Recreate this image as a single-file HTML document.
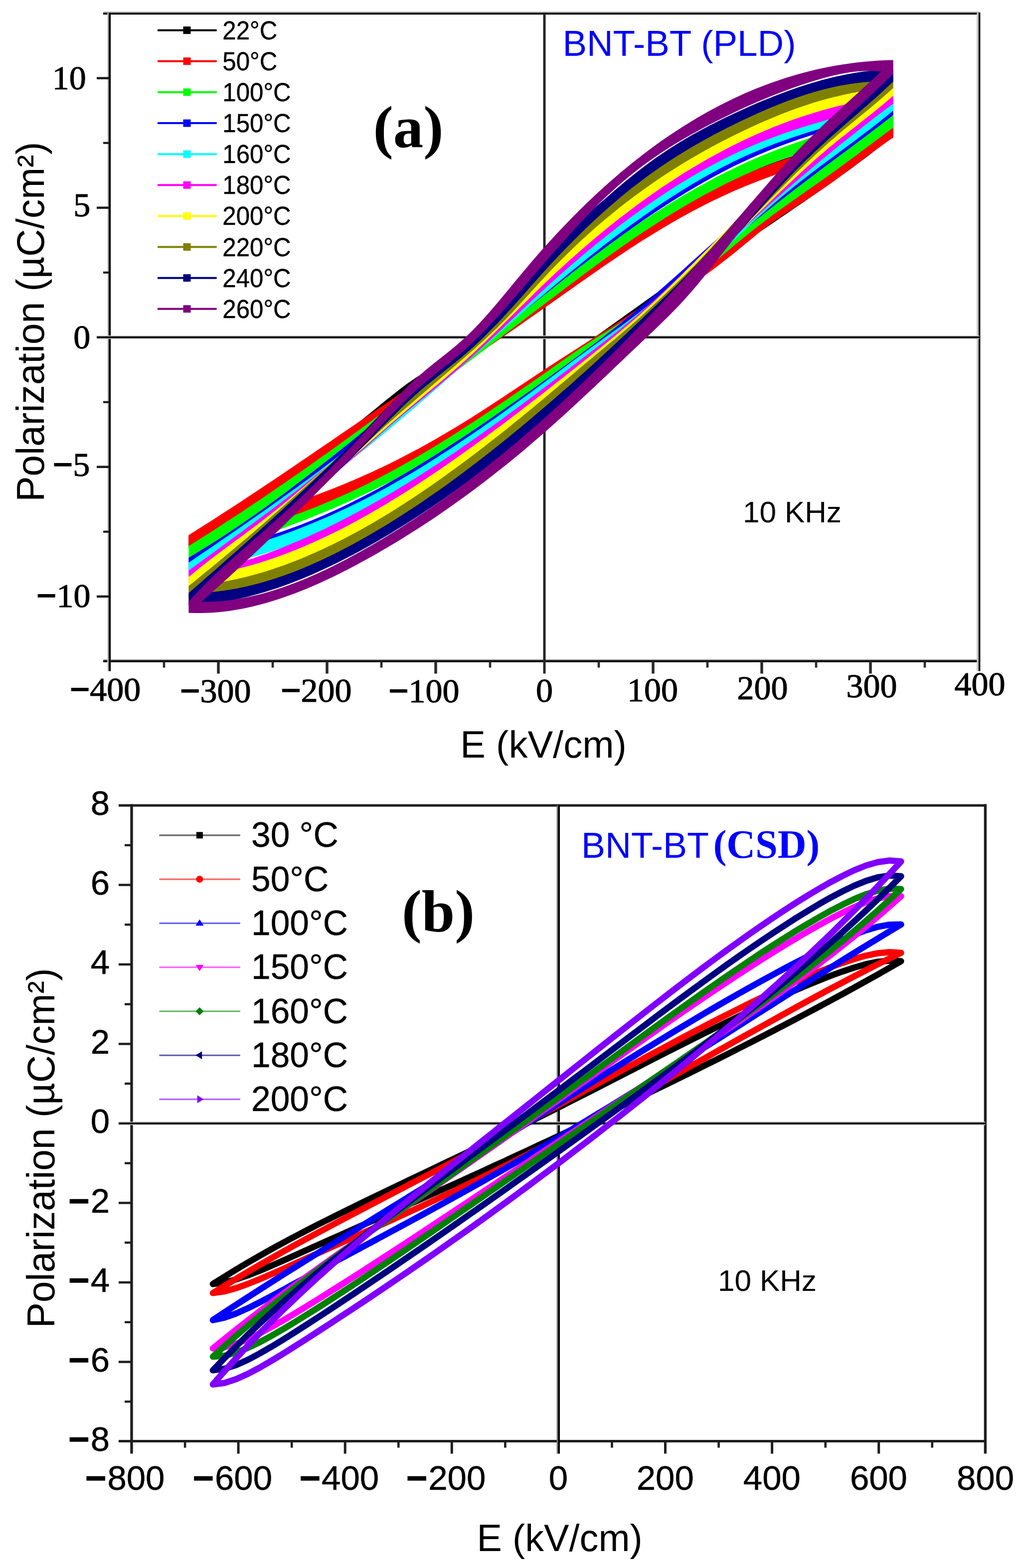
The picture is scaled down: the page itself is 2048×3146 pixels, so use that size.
<!DOCTYPE html>
<html lang="en">
<head>
<meta charset="utf-8">
<title>P-E hysteresis loops of BNT-BT thin films (PLD and CSD)</title>
<style>
html,body{margin:0;padding:0;background:#fff;}
body{width:2048px;height:3146px;overflow:hidden;}
svg{display:block;filter:blur(0.55px);}
.ss{font-family:"Liberation Sans",Arial,Helvetica,sans-serif;}
.sf{font-family:"Liberation Serif","Times New Roman",Times,serif;}
</style>
</head>
<body>
<svg width="2048" height="3146" viewBox="0 0 2048 3146">
<rect width="2048" height="3146" fill="#fff"/>
<g id="axes-a">
<line x1="207" y1="26.4" x2="1966.2" y2="26.4" stroke="#c2c2c2" stroke-width="7"/><line x1="207" y1="27.2" x2="1966.2" y2="27.2" stroke="#000" stroke-width="3.6"/>
<line x1="207" y1="1325.7" x2="1966.2" y2="1325.7" stroke="#c2c2c2" stroke-width="7"/><line x1="207" y1="1326.5" x2="1966.2" y2="1326.5" stroke="#000" stroke-width="3.8"/>
<line x1="218.8" y1="25.4" x2="218.8" y2="1346.5" stroke="#c2c2c2" stroke-width="7"/><line x1="220" y1="25.4" x2="220" y2="1346.5" stroke="#000" stroke-width="4.2"/>
<line x1="1963" y1="25.4" x2="1963" y2="1346.5" stroke="#c2c2c2" stroke-width="7.5"/><line x1="1964.6" y1="25.4" x2="1964.6" y2="1346.5" stroke="#000" stroke-width="3.3"/>
<line x1="1092" y1="27.2" x2="1092" y2="1351.5" stroke="#262626" stroke-width="5"/>
<line x1="194" y1="676.8" x2="1964.6" y2="676.8" stroke="#c2c2c2" stroke-width="7"/><line x1="194" y1="676.8" x2="1964.6" y2="676.8" stroke="#000" stroke-width="3.6"/>
<line x1="194" y1="156.8" x2="220" y2="156.8" stroke="#1c1c1c" stroke-width="4.6"/>
<line x1="194" y1="416.8" x2="220" y2="416.8" stroke="#1c1c1c" stroke-width="4.6"/>
<line x1="194" y1="936.8" x2="220" y2="936.8" stroke="#1c1c1c" stroke-width="4.6"/>
<line x1="194" y1="1196.8" x2="220" y2="1196.8" stroke="#1c1c1c" stroke-width="4.6"/>
<line x1="207" y1="286.8" x2="220" y2="286.8" stroke="#1c1c1c" stroke-width="4.2"/>
<line x1="207" y1="546.8" x2="220" y2="546.8" stroke="#1c1c1c" stroke-width="4.2"/>
<line x1="207" y1="806.8" x2="220" y2="806.8" stroke="#1c1c1c" stroke-width="4.2"/>
<line x1="207" y1="1066.8" x2="220" y2="1066.8" stroke="#1c1c1c" stroke-width="4.2"/>
<line x1="438" y1="1326.5" x2="438" y2="1351.5" stroke="#2a2a2a" stroke-width="5.5"/>
<line x1="656" y1="1326.5" x2="656" y2="1351.5" stroke="#2a2a2a" stroke-width="5.5"/>
<line x1="874" y1="1326.5" x2="874" y2="1351.5" stroke="#2a2a2a" stroke-width="5.5"/>
<line x1="1310" y1="1326.5" x2="1310" y2="1351.5" stroke="#2a2a2a" stroke-width="5.5"/>
<line x1="1528" y1="1326.5" x2="1528" y2="1351.5" stroke="#2a2a2a" stroke-width="5.5"/>
<line x1="1746" y1="1326.5" x2="1746" y2="1351.5" stroke="#2a2a2a" stroke-width="5.5"/>
<line x1="329" y1="1326.5" x2="329" y2="1339.5" stroke="#2a2a2a" stroke-width="4.6"/>
<line x1="547" y1="1326.5" x2="547" y2="1339.5" stroke="#2a2a2a" stroke-width="4.6"/>
<line x1="765" y1="1326.5" x2="765" y2="1339.5" stroke="#2a2a2a" stroke-width="4.6"/>
<line x1="983" y1="1326.5" x2="983" y2="1339.5" stroke="#2a2a2a" stroke-width="4.6"/>
<line x1="1201" y1="1326.5" x2="1201" y2="1339.5" stroke="#2a2a2a" stroke-width="4.6"/>
<line x1="1419" y1="1326.5" x2="1419" y2="1339.5" stroke="#2a2a2a" stroke-width="4.6"/>
<line x1="1637" y1="1326.5" x2="1637" y2="1339.5" stroke="#2a2a2a" stroke-width="4.6"/>
<line x1="1855" y1="1326.5" x2="1855" y2="1339.5" stroke="#2a2a2a" stroke-width="4.6"/>
</g>
<g id="loops-a">
<path d="M378.6,1076.6 390.5,1068.9 402.3,1061.2 414.2,1053.5 426.1,1045.8 438,1038.2 449.8,1030.5 461.7,1022.8 473.6,1015.1 485.5,1007.4 497.3,999.7 509.2,992 521.1,984.3 533,976.6 544.8,968.8 556.7,961.1 568.6,953.3 580.4,945.5 592.3,937.7 604.2,929.7 616.1,921.7 627.9,913.6 639.8,905.4 651.7,897.2 663.6,888.7 675.4,880.2 687.3,871.5 699.2,862.6 711,853.6 722.9,844.4 734.8,835.1 746.7,825.5 758.5,815.8 770.4,806.1 782.3,796.4 794.2,787 806,777.8 817.9,769.1 829.8,760.8 841.7,753.1 853.5,746.1 865.4,739.4 877.3,733 889.1,726.8 901,720.5 912.9,714.1 924.8,707.6 936.6,700.8 948.5,693.8 960.4,686.6 972.3,679.1 984.1,671.4 996,663.5 1007.9,655.4 1019.7,647.2 1031.6,638.9 1043.5,630.4 1055.4,622 1067.2,613.4 1079.1,604.8 1091,596.3 1102.9,587.7 1114.7,579.2 1126.6,570.6 1138.5,562.2 1150.4,553.7 1162.2,545.3 1174.1,537 1186,528.7 1197.8,520.5 1209.7,512.3 1221.6,504.2 1233.5,496.2 1245.3,488.2 1257.2,480.4 1269.1,472.6 1281,464.9 1292.8,457.4 1304.7,449.9 1316.6,442.5 1328.4,435.3 1340.3,428.1 1352.2,421.1 1364.1,414.2 1375.9,407.5 1387.8,400.9 1399.7,394.4 1411.6,388.1 1423.4,382 1435.3,376 1447.2,370.1 1459.1,364.5 1470.9,359 1482.8,353.7 1494.7,348.5 1506.5,343.6 1518.4,338.8 1530.3,334.2 1542.2,329.7 1554,325.4 1565.9,321.2 1577.8,317.1 1589.7,313.2 1601.5,309.3 1613.4,305.6 1625.3,301.9 1637.1,298.3 1649,294.8 1660.9,291.3 1672.8,287.9 1684.6,284.5 1696.5,281.2 1708.4,277.8 1720.3,274.5 1732.1,271.2 1744,267.9 1755.9,264.5 1767.8,261.2 1779.6,257.8 1791.5,254.3 1791.5,273.1 1779.6,276.2 1767.8,279.3 1755.9,282.5 1744,285.7 1732.1,288.9 1720.3,292.1 1708.4,295.4 1696.5,298.7 1684.6,302.1 1672.8,305.5 1660.9,309 1649,312.6 1637.1,316.2 1625.3,319.9 1613.4,323.7 1601.5,327.6 1589.7,331.6 1577.8,335.7 1565.9,339.9 1554,344.2 1542.2,348.7 1530.3,353.3 1518.4,358 1506.5,362.8 1494.7,367.8 1482.8,373 1470.9,378.3 1459.1,383.7 1447.2,389.4 1435.3,395.1 1423.4,401.1 1411.6,407.2 1399.7,413.4 1387.8,419.8 1375.9,426.3 1364.1,433 1352.2,439.9 1340.3,446.9 1328.4,454 1316.6,461.3 1304.7,468.8 1292.8,476.3 1281,484.1 1269.1,492 1257.2,500 1245.3,508.1 1233.5,516.3 1221.6,524.6 1209.7,533 1197.8,541.4 1186,549.9 1174.1,558.4 1162.2,566.9 1150.4,575.4 1138.5,583.9 1126.6,592.4 1114.7,600.8 1102.9,609.2 1091,617.4 1079.1,625.6 1067.2,633.8 1055.4,641.8 1043.5,649.8 1031.6,657.8 1019.7,665.7 1007.9,673.5 996,681.4 984.1,689.2 972.3,697 960.4,704.7 948.5,712.5 936.6,720.3 924.8,728.1 912.9,736 901,743.8 889.1,751.7 877.3,759.7 865.4,767.7 853.5,775.7 841.7,783.8 829.8,791.9 817.9,800.1 806,808.4 794.2,816.6 782.3,824.9 770.4,833.3 758.5,841.6 746.7,850 734.8,858.3 722.9,866.7 711,875 699.2,883.3 687.3,891.6 675.4,899.9 663.6,908.1 651.7,916.4 639.8,924.6 627.9,932.8 616.1,940.9 604.2,949.1 592.3,957.2 580.4,965.2 568.6,973.3 556.7,981.3 544.8,989.3 533,997.2 521.1,1005.1 509.2,1013 497.3,1020.8 485.5,1028.6 473.6,1036.3 461.7,1044 449.8,1051.6 438,1059.2 426.1,1066.8 414.2,1074.3 402.3,1081.7 390.5,1089.1 378.6,1096.4Z" fill="#000000"/>
<path d="M378.6,1076.4 390.5,1073.9 402.3,1071.3 414.2,1068.5 426.1,1065.7 438,1062.7 449.8,1059.6 461.7,1056.4 473.6,1053.1 485.5,1049.7 497.3,1046.2 509.2,1042.6 521.1,1038.8 533,1035 544.8,1031 556.7,1026.9 568.6,1022.8 580.4,1018.5 592.3,1014.1 604.2,1009.6 616.1,1005.1 627.9,1000.4 639.8,995.6 651.7,990.7 663.6,985.7 675.4,980.7 687.3,975.5 699.2,970.2 711,964.9 722.9,959.4 734.8,953.8 746.7,948.2 758.5,942.4 770.4,936.6 782.3,930.7 794.2,924.7 806,918.6 817.9,912.4 829.8,906.1 841.7,899.8 853.5,893.3 865.4,886.8 877.3,880.1 889.1,873.4 901,866.7 912.9,859.8 924.8,852.8 936.6,845.8 948.5,838.7 960.4,831.5 972.3,824.3 984.1,816.9 996,809.5 1007.9,802 1019.7,794.4 1031.6,786.8 1043.5,779.1 1055.4,771.3 1067.2,763.4 1079.1,755.5 1091,747.5 1102.9,739.4 1114.7,731.3 1126.6,723.1 1138.5,714.9 1150.4,706.6 1162.2,698.2 1174.1,689.8 1186,681.4 1197.8,673 1209.7,664.5 1221.6,656 1233.5,647.5 1245.3,639 1257.2,630.5 1269.1,622 1281,613.4 1292.8,604.9 1304.7,596.4 1316.6,587.9 1328.4,579.5 1340.3,571 1352.2,562.6 1364.1,554.2 1375.9,545.8 1387.8,537.5 1399.7,529.1 1411.6,520.8 1423.4,512.6 1435.3,504.3 1447.2,496.1 1459.1,488 1470.9,479.9 1482.8,471.8 1494.7,463.7 1506.5,455.8 1518.4,447.8 1530.3,439.8 1542.2,431.9 1554,424 1565.9,416.1 1577.8,408.1 1589.7,400.2 1601.5,392.2 1613.4,384.2 1625.3,376.1 1637.1,368 1649,359.9 1660.9,351.7 1672.8,343.4 1684.6,335 1696.5,326.5 1708.4,317.9 1720.3,309.3 1732.1,300.5 1744,291.6 1755.9,282.5 1767.8,273.4 1779.6,264 1791.5,254.6 1791.5,273.1 1779.6,282.8 1767.8,292.2 1755.9,301.5 1744,310.7 1732.1,319.7 1720.3,328.6 1708.4,337.4 1696.5,346 1684.6,354.6 1672.8,363.1 1660.9,371.5 1649,379.8 1637.1,388 1625.3,396.2 1613.4,404.4 1601.5,412.5 1589.7,420.6 1577.8,428.7 1565.9,436.8 1554,444.9 1542.2,453 1530.3,461.1 1518.4,469.3 1506.5,477.5 1494.7,485.7 1482.8,494.1 1470.9,502.5 1459.1,510.9 1447.2,519.4 1435.3,528 1423.4,536.6 1411.6,545.2 1399.7,553.8 1387.8,562.5 1375.9,571.1 1364.1,579.8 1352.2,588.4 1340.3,597 1328.4,605.6 1316.6,614.1 1304.7,622.6 1292.8,631.1 1281,639.5 1269.1,647.8 1257.2,656.1 1245.3,664.3 1233.5,672.5 1221.6,680.7 1209.7,688.8 1197.8,696.9 1186,704.9 1174.1,713 1162.2,721 1150.4,729 1138.5,737 1126.6,745 1114.7,752.9 1102.9,760.7 1091,768.5 1079.1,776.3 1067.2,784 1055.4,791.6 1043.5,799.2 1031.6,806.7 1019.7,814.2 1007.9,821.6 996,828.9 984.1,836.2 972.3,843.4 960.4,850.6 948.5,857.7 936.6,864.7 924.8,871.6 912.9,878.5 901,885.3 889.1,892 877.3,898.7 865.4,905.2 853.5,911.7 841.7,918.2 829.8,924.5 817.9,930.8 806,937 794.2,943.1 782.3,949.1 770.4,955 758.5,960.9 746.7,966.7 734.8,972.3 722.9,977.9 711,983.4 699.2,988.8 687.3,994.1 675.4,999.4 663.6,1004.5 651.7,1009.5 639.8,1014.5 627.9,1019.3 616.1,1024 604.2,1028.7 592.3,1033.2 580.4,1037.7 568.6,1042 556.7,1046.2 544.8,1050.3 533,1054.4 521.1,1058.3 509.2,1062.1 497.3,1065.7 485.5,1069.3 473.6,1072.8 461.7,1076.1 449.8,1079.4 438,1082.5 426.1,1085.5 414.2,1088.3 402.3,1091.1 390.5,1093.7 378.6,1096.3Z" fill="#000000"/>
<path d="M378.6,1073.6 390.5,1066.1 402.3,1058.6 414.2,1051.1 426.1,1043.5 438,1035.8 449.8,1028.1 461.7,1020.4 473.6,1012.7 485.5,1004.9 497.3,997 509.2,989.2 521.1,981.3 533,973.3 544.8,965.4 556.7,957.4 568.6,949.4 580.4,941.4 592.3,933.4 604.2,925.3 616.1,917.2 627.9,909.2 639.8,901.1 651.7,893 663.6,884.9 675.4,876.8 687.3,868.6 699.2,860.5 711,852.4 722.9,844.3 734.8,836.2 746.7,828.1 758.5,820 770.4,811.9 782.3,803.9 794.2,795.8 806,787.7 817.9,779.6 829.8,771.6 841.7,763.5 853.5,755.4 865.4,747.4 877.3,739.3 889.1,731.2 901,723.1 912.9,715 924.8,706.9 936.6,698.8 948.5,690.7 960.4,682.5 972.3,674.4 984.1,666.2 996,658 1007.9,649.9 1019.7,641.6 1031.6,633.4 1043.5,625.2 1055.4,616.9 1067.2,608.6 1079.1,600.3 1091,592 1102.9,583.6 1114.7,575.3 1126.6,566.9 1138.5,558.5 1150.4,550.2 1162.2,541.8 1174.1,533.5 1186,525.3 1197.8,517.1 1209.7,508.9 1221.6,500.8 1233.5,492.8 1245.3,484.9 1257.2,477.1 1269.1,469.4 1281,461.8 1292.8,454.3 1304.7,447 1316.6,439.7 1328.4,432.7 1340.3,425.7 1352.2,418.9 1364.1,412.3 1375.9,405.8 1387.8,399.4 1399.7,393.2 1411.6,387.1 1423.4,381.2 1435.3,375.5 1447.2,369.9 1459.1,364.5 1470.9,359.2 1482.8,354.1 1494.7,349.1 1506.5,344.4 1518.4,339.7 1530.3,335.2 1542.2,330.9 1554,326.6 1565.9,322.5 1577.8,318.5 1589.7,314.5 1601.5,310.7 1613.4,306.9 1625.3,303.2 1637.1,299.5 1649,295.8 1660.9,292.2 1672.8,288.6 1684.6,285 1696.5,281.5 1708.4,277.9 1720.3,274.2 1732.1,270.6 1744,266.9 1755.9,263.2 1767.8,259.4 1779.6,255.5 1791.5,251.5 1791.5,276.2 1779.6,280.2 1767.8,284 1755.9,287.8 1744,291.5 1732.1,295.2 1720.3,298.8 1708.4,302.4 1696.5,306 1684.6,309.5 1672.8,313.1 1660.9,316.7 1649,320.3 1637.1,323.9 1625.3,327.6 1613.4,331.3 1601.5,335.1 1589.7,338.9 1577.8,342.9 1565.9,346.9 1554,351 1542.2,355.3 1530.3,359.7 1518.4,364.2 1506.5,368.9 1494.7,373.7 1482.8,378.7 1470.9,383.8 1459.1,389.2 1447.2,394.7 1435.3,400.3 1423.4,406.1 1411.6,412.1 1399.7,418.3 1387.8,424.6 1375.9,431 1364.1,437.6 1352.2,444.3 1340.3,451.2 1328.4,458.2 1316.6,465.4 1304.7,472.7 1292.8,480.1 1281,487.6 1269.1,495.3 1257.2,503.1 1245.3,511 1233.5,518.9 1221.6,527 1209.7,535.1 1197.8,543.4 1186,551.6 1174.1,559.9 1162.2,568.3 1150.4,576.7 1138.5,585.1 1126.6,593.5 1114.7,601.9 1102.9,610.3 1091,618.6 1079.1,627 1067.2,635.3 1055.4,643.6 1043.5,651.9 1031.6,660.2 1019.7,668.4 1007.9,676.6 996,684.8 984.1,693 972.3,701.2 960.4,709.3 948.5,717.5 936.6,725.6 924.8,733.7 912.9,741.8 901,749.9 889.1,758 877.3,766 865.4,774.1 853.5,782.2 841.7,790.2 829.8,798.3 817.9,806.3 806,814.4 794.2,822.4 782.3,830.5 770.4,838.5 758.5,846.6 746.7,854.7 734.8,862.8 722.9,870.8 711,878.9 699.2,887 687.3,895.1 675.4,903.2 663.6,911.3 651.7,919.4 639.8,927.5 627.9,935.5 616.1,943.6 604.2,951.6 592.3,959.7 580.4,967.7 568.6,975.7 556.7,983.6 544.8,991.6 533,999.5 521.1,1007.4 509.2,1015.3 497.3,1023.1 485.5,1031 473.6,1038.7 461.7,1046.5 449.8,1054.2 438,1061.8 426.1,1069.5 414.2,1077 402.3,1084.6 390.5,1092 378.6,1099.5Z" fill="#ff0000"/>
<path d="M378.6,1073.5 390.5,1070.1 402.3,1066.6 414.2,1063.2 426.1,1059.7 438,1056.3 449.8,1052.8 461.7,1049.3 473.6,1045.7 485.5,1042.2 497.3,1038.6 509.2,1034.9 521.1,1031.2 533,1027.5 544.8,1023.7 556.7,1019.9 568.6,1016 580.4,1012 592.3,1007.9 604.2,1003.8 616.1,999.6 627.9,995.3 639.8,990.9 651.7,986.4 663.6,981.9 675.4,977.2 687.3,972.4 699.2,967.5 711,962.5 722.9,957.3 734.8,952.1 746.7,946.7 758.5,941.1 770.4,935.5 782.3,929.7 794.2,923.8 806,917.8 817.9,911.6 829.8,905.3 841.7,898.9 853.5,892.4 865.4,885.7 877.3,879 889.1,872.1 901,865.1 912.9,858 924.8,850.7 936.6,843.4 948.5,835.9 960.4,828.4 972.3,820.7 984.1,813 996,805.2 1007.9,797.4 1019.7,789.5 1031.6,781.7 1043.5,773.8 1055.4,765.9 1067.2,758 1079.1,750.1 1091,742.3 1102.9,734.5 1114.7,726.8 1126.6,719.1 1138.5,711.5 1150.4,703.8 1162.2,696.2 1174.1,688.6 1186,681 1197.8,673.4 1209.7,665.8 1221.6,658.1 1233.5,650.4 1245.3,642.7 1257.2,634.9 1269.1,627.1 1281,619.2 1292.8,611.3 1304.7,603.3 1316.6,595.2 1328.4,587 1340.3,578.7 1352.2,570.3 1364.1,561.9 1375.9,553.3 1387.8,544.7 1399.7,535.9 1411.6,527.1 1423.4,518.1 1435.3,509 1447.2,499.8 1459.1,490.5 1470.9,481.1 1482.8,471.5 1494.7,461.8 1506.5,452.1 1518.4,442.5 1530.3,433.4 1542.2,424.7 1554,416.6 1565.9,409 1577.8,401.5 1589.7,394 1601.5,386.4 1613.4,378.7 1625.3,370.9 1637.1,362.9 1649,354.8 1660.9,346.5 1672.8,338 1684.6,329.4 1696.5,320.6 1708.4,311.8 1720.3,302.9 1732.1,294 1744,285.2 1755.9,276.5 1767.8,267.9 1779.6,259.5 1791.5,251.4 1791.5,276.1 1779.6,284.3 1767.8,292.7 1755.9,301.3 1744,310.1 1732.1,319 1720.3,327.9 1708.4,336.9 1696.5,345.8 1684.6,354.6 1672.8,363.2 1660.9,371.7 1649,379.9 1637.1,388 1625.3,396 1613.4,403.8 1601.5,411.6 1589.7,419.4 1577.8,427.1 1565.9,435 1554,443.1 1542.2,451.6 1530.3,460.6 1518.4,470.1 1506.5,479.9 1494.7,489.8 1482.8,499.6 1470.9,509.2 1459.1,518.6 1447.2,527.8 1435.3,536.9 1423.4,545.8 1411.6,554.5 1399.7,563.1 1387.8,571.6 1375.9,579.9 1364.1,588.2 1352.2,596.4 1340.3,604.5 1328.4,612.5 1316.6,620.5 1304.7,628.4 1292.8,636.3 1281,644.3 1269.1,652.1 1257.2,660 1245.3,667.9 1233.5,675.8 1221.6,683.7 1209.7,691.5 1197.8,699.4 1186,707.2 1174.1,715 1162.2,722.9 1150.4,730.7 1138.5,738.5 1126.6,746.3 1114.7,754.1 1102.9,761.8 1091,769.6 1079.1,777.4 1067.2,785.1 1055.4,792.8 1043.5,800.5 1031.6,808.2 1019.7,815.9 1007.9,823.5 996,831 984.1,838.5 972.3,846 960.4,853.4 948.5,860.7 936.6,868 924.8,875.2 912.9,882.4 901,889.4 889.1,896.4 877.3,903.3 865.4,910.1 853.5,916.7 841.7,923.3 829.8,929.8 817.9,936.2 806,942.4 794.2,948.6 782.3,954.6 770.4,960.4 758.5,966.2 746.7,971.8 734.8,977.2 722.9,982.6 711,987.7 699.2,992.8 687.3,997.7 675.4,1002.5 663.6,1007.1 651.7,1011.7 639.8,1016.1 627.9,1020.5 616.1,1024.7 604.2,1028.9 592.3,1033 580.4,1037 568.6,1041 556.7,1044.8 544.8,1048.7 533,1052.4 521.1,1056.2 509.2,1059.9 497.3,1063.5 485.5,1067.1 473.6,1070.7 461.7,1074.3 449.8,1077.9 438,1081.5 426.1,1085 414.2,1088.6 402.3,1092.2 390.5,1095.8 378.6,1099.5Z" fill="#ff0000"/>
<path d="M378.6,1095.5 390.5,1088 402.3,1080.5 414.2,1073 426.1,1065.4 438,1057.7 449.8,1050.1 461.7,1042.3 473.6,1034.5 485.5,1026.7 497.3,1018.8 509.2,1010.8 521.1,1002.9 533,994.8 544.8,986.8 556.7,978.6 568.6,970.5 580.4,962.3 592.3,954 604.2,945.8 616.1,937.4 627.9,929.1 639.8,920.6 651.7,912.2 663.6,903.7 675.4,895.2 687.3,886.6 699.2,878 711,869.4 722.9,860.7 734.8,852 746.7,843.3 758.5,834.5 770.4,825.7 782.3,816.9 794.2,808 806,799.1 817.9,790.2 829.8,781.3 841.7,772.3 853.5,763.4 865.4,754.4 877.3,745.4 889.1,736.4 901,727.4 912.9,718.4 924.8,709.4 936.6,700.4 948.5,691.4 960.4,682.3 972.3,673.3 984.1,664.3 996,655.3 1007.9,646.3 1019.7,637.3 1031.6,628.4 1043.5,619.4 1055.4,610.5 1067.2,601.6 1079.1,592.7 1091,583.8 1102.9,575 1114.7,566.2 1126.6,557.4 1138.5,548.7 1150.4,540 1162.2,531.3 1174.1,522.8 1186,514.2 1197.8,505.7 1209.7,497.3 1221.6,489 1233.5,480.7 1245.3,472.6 1257.2,464.5 1269.1,456.5 1281,448.5 1292.8,440.7 1304.7,433 1316.6,425.4 1328.4,417.9 1340.3,410.5 1352.2,403.2 1364.1,396.1 1375.9,389.1 1387.8,382.2 1399.7,375.5 1411.6,368.9 1423.4,362.4 1435.3,356.1 1447.2,350 1459.1,344 1470.9,338.2 1482.8,332.5 1494.7,327 1506.5,321.7 1518.4,316.6 1530.3,311.6 1542.2,306.7 1554,302 1565.9,297.5 1577.8,293 1589.7,288.7 1601.5,284.5 1613.4,280.4 1625.3,276.4 1637.1,272.5 1649,268.7 1660.9,265 1672.8,261.3 1684.6,257.7 1696.5,254.2 1708.4,250.7 1720.3,247.3 1732.1,243.9 1744,240.5 1755.9,237.1 1767.8,233.8 1779.6,230.5 1791.5,227.1 1791.5,256.4 1779.6,259 1767.8,261.7 1755.9,264.5 1744,267.3 1732.1,270.2 1720.3,273.1 1708.4,276.2 1696.5,279.3 1684.6,282.5 1672.8,285.9 1660.9,289.3 1649,292.8 1637.1,296.5 1625.3,300.2 1613.4,304.1 1601.5,308.1 1589.7,312.2 1577.8,316.4 1565.9,320.8 1554,325.4 1542.2,330 1530.3,334.8 1518.4,339.8 1506.5,344.9 1494.7,350.2 1482.8,355.7 1470.9,361.3 1459.1,367.1 1447.2,373 1435.3,379.2 1423.4,385.4 1411.6,391.8 1399.7,398.4 1387.8,405.1 1375.9,412 1364.1,419 1352.2,426.2 1340.3,433.5 1328.4,440.9 1316.6,448.5 1304.7,456.2 1292.8,464.1 1281,472 1269.1,480.1 1257.2,488.3 1245.3,496.6 1233.5,505 1221.6,513.5 1209.7,522.1 1197.8,530.8 1186,539.5 1174.1,548.3 1162.2,557.2 1150.4,566.1 1138.5,575 1126.6,584 1114.7,593 1102.9,602 1091,611 1079.1,620 1067.2,629.1 1055.4,638.1 1043.5,647.2 1031.6,656.2 1019.7,665.2 1007.9,674.3 996,683.3 984.1,692.3 972.3,701.4 960.4,710.4 948.5,719.4 936.6,728.4 924.8,737.4 912.9,746.4 901,755.3 889.1,764.3 877.3,773.2 865.4,782.2 853.5,791.1 841.7,800 829.8,808.9 817.9,817.7 806,826.6 794.2,835.4 782.3,844.2 770.4,853 758.5,861.7 746.7,870.4 734.8,879.1 722.9,887.8 711,896.4 699.2,905.1 687.3,913.7 675.4,922.2 663.6,930.7 651.7,939.2 639.8,947.7 627.9,956.1 616.1,964.5 604.2,972.8 592.3,981.1 580.4,989.4 568.6,997.6 556.7,1005.8 544.8,1014 533,1022.1 521.1,1030.1 509.2,1038.1 497.3,1046.1 485.5,1054 473.6,1061.9 461.7,1069.7 449.8,1077.5 438,1085.2 426.1,1092.8 414.2,1100.4 402.3,1108 390.5,1115.5 378.6,1122.9Z" fill="#00ff00"/>
<path d="M378.6,1095.4 390.5,1092.7 402.3,1089.9 414.2,1087.1 426.1,1084.1 438,1081.1 449.8,1078 461.7,1074.8 473.6,1071.5 485.5,1068.1 497.3,1064.6 509.2,1061 521.1,1057.4 533,1053.6 544.8,1049.7 556.7,1045.7 568.6,1041.6 580.4,1037.4 592.3,1033.1 604.2,1028.7 616.1,1024.1 627.9,1019.4 639.8,1014.7 651.7,1009.8 663.6,1004.7 675.4,999.6 687.3,994.3 699.2,988.9 711,983.4 722.9,977.7 734.8,971.9 746.7,965.9 758.5,959.8 770.4,953.6 782.3,947.3 794.2,940.8 806,934.3 817.9,927.6 829.8,920.7 841.7,913.8 853.5,906.8 865.4,899.7 877.3,892.4 889.1,885.1 901,877.7 912.9,870.2 924.8,862.6 936.6,855 948.5,847.3 960.4,839.4 972.3,831.6 984.1,823.6 996,815.6 1007.9,807.6 1019.7,799.5 1031.6,791.3 1043.5,783.1 1055.4,774.8 1067.2,766.5 1079.1,758.2 1091,749.9 1102.9,741.5 1114.7,733.1 1126.6,724.7 1138.5,716.5 1150.4,708.2 1162.2,700.1 1174.1,692.2 1186,684.4 1197.8,676.8 1209.7,669.4 1221.6,662 1233.5,654.6 1245.3,647.1 1257.2,639.5 1269.1,631.7 1281,623.6 1292.8,615.2 1304.7,606.3 1316.6,597.2 1328.4,587.7 1340.3,578 1352.2,568.1 1364.1,558 1375.9,547.7 1387.8,537.4 1399.7,527 1411.6,516.5 1423.4,506.1 1435.3,495.8 1447.2,485.5 1459.1,475.4 1470.9,465.4 1482.8,455.7 1494.7,446.2 1506.5,437 1518.4,428 1530.3,419.2 1542.2,410.5 1554,402 1565.9,393.6 1577.8,385.2 1589.7,376.9 1601.5,368.7 1613.4,360.4 1625.3,352 1637.1,343.6 1649,335.1 1660.9,326.5 1672.8,317.7 1684.6,308.7 1696.5,299.6 1708.4,290.5 1720.3,281.3 1732.1,272 1744,262.8 1755.9,253.7 1767.8,244.6 1779.6,235.7 1791.5,227 1791.5,256.2 1779.6,265 1767.8,273.9 1755.9,282.8 1744,291.7 1732.1,300.6 1720.3,309.5 1708.4,318.3 1696.5,327.1 1684.6,335.8 1672.8,344.4 1660.9,353 1649,361.4 1637.1,369.8 1625.3,378.1 1613.4,386.4 1601.5,394.7 1589.7,403.1 1577.8,411.5 1565.9,420 1554,428.6 1542.2,437.4 1530.3,446.4 1518.4,455.6 1506.5,464.9 1494.7,474.5 1482.8,484.2 1470.9,494.1 1459.1,504 1447.2,514.1 1435.3,524.2 1423.4,534.3 1411.6,544.5 1399.7,554.6 1387.8,564.7 1375.9,574.7 1364.1,584.6 1352.2,594.4 1340.3,604.1 1328.4,613.5 1316.6,622.8 1304.7,631.8 1292.8,640.6 1281,649.1 1269.1,657.3 1257.2,665.3 1245.3,673.1 1233.5,680.8 1221.6,688.4 1209.7,696 1197.8,703.6 1186,711.3 1174.1,719.1 1162.2,727 1150.4,734.9 1138.5,743 1126.6,751.1 1114.7,759.3 1102.9,767.6 1091,775.9 1079.1,784.2 1067.2,792.6 1055.4,801 1043.5,809.4 1031.6,817.7 1019.7,826 1007.9,834.3 996,842.5 984.1,850.6 972.3,858.5 960.4,866.4 948.5,874.1 936.6,881.7 924.8,889.1 912.9,896.3 901,903.4 889.1,910.3 877.3,917.1 865.4,923.7 853.5,930.2 841.7,936.5 829.8,942.8 817.9,948.9 806,954.9 794.2,960.9 782.3,966.9 770.4,972.8 758.5,978.6 746.7,984.4 734.8,990 722.9,995.6 711,1001.1 699.2,1006.4 687.3,1011.7 675.4,1016.9 663.6,1021.9 651.7,1026.9 639.8,1031.8 627.9,1036.6 616.1,1041.4 604.2,1046 592.3,1050.6 580.4,1055.1 568.6,1059.5 556.7,1063.8 544.8,1068.1 533,1072.4 521.1,1076.5 509.2,1080.6 497.3,1084.7 485.5,1088.7 473.6,1092.7 461.7,1096.6 449.8,1100.5 438,1104.3 426.1,1108.1 414.2,1111.8 402.3,1115.6 390.5,1119.3 378.6,1122.9Z" fill="#00ff00"/>
<path d="M378.6,1118.9 390.5,1111.8 402.3,1104.6 414.2,1097.3 426.1,1089.8 438,1082.2 449.8,1074.5 461.7,1066.7 473.6,1058.8 485.5,1050.7 497.3,1042.5 509.2,1034.3 521.1,1025.9 533,1017.4 544.8,1008.8 556.7,1000.1 568.6,991.4 580.4,982.5 592.3,973.6 604.2,964.6 616.1,955.5 627.9,946.3 639.8,937.1 651.7,927.8 663.6,918.4 675.4,908.9 687.3,899.4 699.2,889.9 711,880.3 722.9,870.6 734.8,860.9 746.7,851.2 758.5,841.4 770.4,831.6 782.3,821.8 794.2,811.9 806,802 817.9,792.1 829.8,782.1 841.7,772.2 853.5,762.2 865.4,752.2 877.3,742.2 889.1,732.2 901,722.2 912.9,712.2 924.8,702.3 936.6,692.3 948.5,682.3 960.4,672.4 972.3,662.4 984.1,652.5 996,642.7 1007.9,632.8 1019.7,623 1031.6,613.2 1043.5,603.5 1055.4,593.8 1067.2,584.1 1079.1,574.5 1091,564.9 1102.9,555.4 1114.7,546 1126.6,536.6 1138.5,527.3 1150.4,518.1 1162.2,508.9 1174.1,499.8 1186,490.8 1197.8,481.9 1209.7,473.1 1221.6,464.3 1233.5,455.7 1245.3,447.1 1257.2,438.7 1269.1,430.4 1281,422.2 1292.8,414.1 1304.7,406.1 1316.6,398.2 1328.4,390.5 1340.3,382.9 1352.2,375.5 1364.1,368.2 1375.9,361 1387.8,354 1399.7,347.1 1411.6,340.4 1423.4,333.8 1435.3,327.4 1447.2,321.2 1459.1,315.1 1470.9,309.2 1482.8,303.5 1494.7,298 1506.5,292.7 1518.4,287.5 1530.3,282.5 1542.2,277.7 1554,273 1565.9,268.5 1577.8,264.2 1589.7,259.9 1601.5,255.9 1613.4,252 1625.3,248.2 1637.1,244.5 1649,241 1660.9,237.5 1672.8,234.2 1684.6,231 1696.5,228 1708.4,225 1720.3,222.1 1732.1,219.3 1744,216.6 1755.9,214 1767.8,211.4 1779.6,208.9 1791.5,206.5 1791.5,231.3 1779.6,233.5 1767.8,235.8 1755.9,238.2 1744,240.7 1732.1,243.4 1720.3,246.1 1708.4,248.9 1696.5,251.8 1684.6,254.9 1672.8,258.1 1660.9,261.4 1649,264.8 1637.1,268.3 1625.3,272 1613.4,275.9 1601.5,279.8 1589.7,284 1577.8,288.2 1565.9,292.7 1554,297.2 1542.2,302 1530.3,306.9 1518.4,312 1506.5,317.3 1494.7,322.7 1482.8,328.3 1470.9,334.1 1459.1,340.1 1447.2,346.2 1435.3,352.6 1423.4,359 1411.6,365.7 1399.7,372.5 1387.8,379.5 1375.9,386.6 1364.1,393.9 1352.2,401.3 1340.3,408.8 1328.4,416.5 1316.6,424.3 1304.7,432.3 1292.8,440.3 1281,448.5 1269.1,456.8 1257.2,465.2 1245.3,473.8 1233.5,482.4 1221.6,491.1 1209.7,499.9 1197.8,508.8 1186,517.8 1174.1,526.9 1162.2,536.1 1150.4,545.3 1138.5,554.7 1126.6,564 1114.7,573.5 1102.9,583 1091,592.6 1079.1,602.2 1067.2,611.8 1055.4,621.6 1043.5,631.3 1031.6,641.1 1019.7,651 1007.9,660.8 996,670.7 984.1,680.6 972.3,690.6 960.4,700.5 948.5,710.5 936.6,720.5 924.8,730.5 912.9,740.5 901,750.5 889.1,760.6 877.3,770.6 865.4,780.6 853.5,790.6 841.7,800.5 829.8,810.5 817.9,820.4 806,830.4 794.2,840.2 782.3,850.1 770.4,859.9 758.5,869.7 746.7,879.5 734.8,889.2 722.9,898.8 711,908.4 699.2,918 687.3,927.5 675.4,936.9 663.6,946.3 651.7,955.6 639.8,964.8 627.9,974 616.1,983.1 604.2,992.1 592.3,1001 580.4,1009.9 568.6,1018.6 556.7,1027.2 544.8,1035.8 533,1044.3 521.1,1052.6 509.2,1060.9 497.3,1069 485.5,1077 473.6,1084.9 461.7,1092.7 449.8,1100.4 438,1107.9 426.1,1115.3 414.2,1122.6 402.3,1129.7 390.5,1136.7 378.6,1143.5Z" fill="#0000ff"/>
<path d="M378.6,1119 390.5,1115.5 402.3,1112.1 414.2,1108.9 426.1,1105.7 438,1102.6 449.8,1099.5 461.7,1096.4 473.6,1093.4 485.5,1090.2 497.3,1087 509.2,1083.8 521.1,1080.4 533,1076.9 544.8,1073.3 556.7,1069.4 568.6,1065.4 580.4,1061.3 592.3,1057 604.2,1052.5 616.1,1047.8 627.9,1043 639.8,1038 651.7,1032.9 663.6,1027.6 675.4,1022.2 687.3,1016.7 699.2,1011 711,1005.1 722.9,999.1 734.8,993 746.7,986.8 758.5,980.4 770.4,973.9 782.3,967.3 794.2,960.6 806,953.7 817.9,946.8 829.8,939.7 841.7,932.6 853.5,925.3 865.4,917.9 877.3,910.5 889.1,902.9 901,895.3 912.9,887.6 924.8,879.8 936.6,871.9 948.5,864 960.4,856 972.3,847.9 984.1,839.8 996,831.6 1007.9,823.3 1019.7,815 1031.6,806.7 1043.5,798.3 1055.4,789.8 1067.2,781.4 1079.1,772.8 1091,764.3 1102.9,755.7 1114.7,747.1 1126.6,738.5 1138.5,729.8 1150.4,721 1162.2,712.2 1174.1,703.3 1186,694.4 1197.8,685.4 1209.7,676.2 1221.6,667 1233.5,657.7 1245.3,648.2 1257.2,638.6 1269.1,628.9 1281,619.1 1292.8,609 1304.7,598.9 1316.6,588.5 1328.4,578.1 1340.3,567.6 1352.2,557 1364.1,546.4 1375.9,535.7 1387.8,525 1399.7,514.3 1411.6,503.6 1423.4,493 1435.3,482.4 1447.2,471.9 1459.1,461.6 1470.9,451.3 1482.8,441.2 1494.7,431.3 1506.5,421.5 1518.4,411.8 1530.3,402.3 1542.2,393 1554,383.7 1565.9,374.6 1577.8,365.6 1589.7,356.6 1601.5,347.7 1613.4,338.9 1625.3,330.1 1637.1,321.4 1649,312.7 1660.9,304 1672.8,295.3 1684.6,286.7 1696.5,278 1708.4,269.2 1720.3,260.5 1732.1,251.7 1744,242.8 1755.9,233.8 1767.8,224.7 1779.6,215.6 1791.5,206.3 1791.5,231 1779.6,240.3 1767.8,249.4 1755.9,258.5 1744,267.5 1732.1,276.4 1720.3,285.3 1708.4,294.2 1696.5,303 1684.6,311.9 1672.8,320.7 1660.9,329.6 1649,338.5 1637.1,347.4 1625.3,356.4 1613.4,365.4 1601.5,374.5 1589.7,383.6 1577.8,392.8 1565.9,402.1 1554,411.5 1542.2,420.9 1530.3,430.5 1518.4,440.1 1506.5,449.9 1494.7,459.8 1482.8,469.8 1470.9,479.9 1459.1,490.2 1447.2,500.5 1435.3,510.9 1423.4,521.4 1411.6,531.9 1399.7,542.4 1387.8,553 1375.9,563.5 1364.1,574.1 1352.2,584.6 1340.3,595 1328.4,605.4 1316.6,615.7 1304.7,625.9 1292.8,636 1281,645.9 1269.1,655.7 1257.2,665.4 1245.3,675 1233.5,684.5 1221.6,693.8 1209.7,703.1 1197.8,712.2 1186,721.3 1174.1,730.2 1162.2,739.1 1150.4,748 1138.5,756.7 1126.6,765.4 1114.7,774.1 1102.9,782.7 1091,791.2 1079.1,799.8 1067.2,808.2 1055.4,816.7 1043.5,825.1 1031.6,833.4 1019.7,841.8 1007.9,850 996,858.2 984.1,866.3 972.3,874.4 960.4,882.4 948.5,890.4 936.6,898.2 924.8,906 912.9,913.7 901,921.3 889.1,928.9 877.3,936.3 865.4,943.7 853.5,951 841.7,958.1 829.8,965.2 817.9,972.2 806,979 794.2,985.8 782.3,992.4 770.4,998.9 758.5,1005.3 746.7,1011.6 734.8,1017.7 722.9,1023.7 711,1029.6 699.2,1035.3 687.3,1040.9 675.4,1046.4 663.6,1051.7 651.7,1056.9 639.8,1062 627.9,1066.9 616.1,1071.7 604.2,1076.3 592.3,1080.8 580.4,1085.1 568.6,1089.3 556.7,1093.3 544.8,1097.2 533,1100.9 521.1,1104.5 509.2,1108 497.3,1111.4 485.5,1114.6 473.6,1117.9 461.7,1121.1 449.8,1124.2 438,1127.4 426.1,1130.5 414.2,1133.7 402.3,1137 390.5,1140.3 378.6,1143.6Z" fill="#0000ff"/>
<path d="M378.6,1128.8 390.5,1120.7 402.3,1112.6 414.2,1104.5 426.1,1096.4 438,1088.2 449.8,1080.1 461.7,1071.9 473.6,1063.7 485.5,1055.5 497.3,1047.3 509.2,1039 521.1,1030.7 533,1022.4 544.8,1014 556.7,1005.6 568.6,997.1 580.4,988.5 592.3,980 604.2,971.3 616.1,962.6 627.9,953.8 639.8,945 651.7,936 663.6,927 675.4,917.9 687.3,908.8 699.2,899.5 711,890.1 722.9,880.7 734.8,871.1 746.7,861.5 758.5,851.7 770.4,841.8 782.3,831.9 794.2,821.9 806,811.8 817.9,801.6 829.8,791.4 841.7,781.1 853.5,770.7 865.4,760.3 877.3,749.9 889.1,739.4 901,728.9 912.9,718.4 924.8,707.9 936.6,697.3 948.5,686.8 960.4,676.3 972.3,665.7 984.1,655.2 996,644.7 1007.9,634.3 1019.7,623.9 1031.6,613.5 1043.5,603.1 1055.4,592.8 1067.2,582.6 1079.1,572.5 1091,562.4 1102.9,552.3 1114.7,542.4 1126.6,532.6 1138.5,522.8 1150.4,513.1 1162.2,503.5 1174.1,494.1 1186,484.7 1197.8,475.4 1209.7,466.3 1221.6,457.2 1233.5,448.3 1245.3,439.5 1257.2,430.8 1269.1,422.3 1281,413.8 1292.8,405.6 1304.7,397.4 1316.6,389.4 1328.4,381.5 1340.3,373.8 1352.2,366.3 1364.1,358.9 1375.9,351.6 1387.8,344.6 1399.7,337.7 1411.6,330.9 1423.4,324.4 1435.3,318 1447.2,311.8 1459.1,305.8 1470.9,300 1482.8,294.3 1494.7,288.9 1506.5,283.7 1518.4,278.6 1530.3,273.7 1542.2,269 1554,264.5 1565.9,260.1 1577.8,255.9 1589.7,251.8 1601.5,247.9 1613.4,244.1 1625.3,240.4 1637.1,236.8 1649,233.3 1660.9,230 1672.8,226.7 1684.6,223.5 1696.5,220.4 1708.4,217.4 1720.3,214.4 1732.1,211.5 1744,208.7 1755.9,205.9 1767.8,203.1 1779.6,200.4 1791.5,197.7 1791.5,222.4 1779.6,225 1767.8,227.6 1755.9,230.3 1744,233 1732.1,235.8 1720.3,238.6 1708.4,241.5 1696.5,244.5 1684.6,247.6 1672.8,250.7 1660.9,254 1649,257.3 1637.1,260.8 1625.3,264.3 1613.4,268 1601.5,271.9 1589.7,275.8 1577.8,279.9 1565.9,284.2 1554,288.6 1542.2,293.2 1530.3,298 1518.4,302.9 1506.5,308 1494.7,313.3 1482.8,318.8 1470.9,324.6 1459.1,330.5 1447.2,336.6 1435.3,342.9 1423.4,349.4 1411.6,356.1 1399.7,362.9 1387.8,369.9 1375.9,377.2 1364.1,384.5 1352.2,392.1 1340.3,399.7 1328.4,407.6 1316.6,415.6 1304.7,423.7 1292.8,432 1281,440.4 1269.1,449 1257.2,457.7 1245.3,466.5 1233.5,475.4 1221.6,484.5 1209.7,493.6 1197.8,502.9 1186,512.3 1174.1,521.8 1162.2,531.4 1150.4,541 1138.5,550.8 1126.6,560.7 1114.7,570.6 1102.9,580.6 1091,590.7 1079.1,600.8 1067.2,611 1055.4,621.3 1043.5,631.6 1031.6,642 1019.7,652.4 1007.9,662.8 996,673.3 984.1,683.8 972.3,694.3 960.4,704.8 948.5,715.3 936.6,725.8 924.8,736.4 912.9,746.9 901,757.3 889.1,767.8 877.3,778.2 865.4,788.6 853.5,798.9 841.7,809.2 829.8,819.5 817.9,829.7 806,839.8 794.2,849.8 782.3,859.8 770.4,869.7 758.5,879.5 746.7,889.2 734.8,898.8 722.9,908.3 711,917.7 699.2,927 687.3,936.2 675.4,945.3 663.6,954.3 651.7,963.2 639.8,972.1 627.9,980.9 616.1,989.6 604.2,998.2 592.3,1006.8 580.4,1015.3 568.6,1023.8 556.7,1032.2 544.8,1040.5 533,1048.8 521.1,1057 509.2,1065.2 497.3,1073.4 485.5,1081.5 473.6,1089.6 461.7,1097.7 449.8,1105.7 438,1113.7 426.1,1121.7 414.2,1129.7 402.3,1137.7 390.5,1145.6 378.6,1153.6Z" fill="#00ffff"/>
<path d="M378.6,1128.9 390.5,1126 402.3,1123 414.2,1119.9 426.1,1116.8 438,1113.6 449.8,1110.3 461.7,1106.9 473.6,1103.5 485.5,1099.9 497.3,1096.2 509.2,1092.5 521.1,1088.6 533,1084.7 544.8,1080.6 556.7,1076.5 568.6,1072.2 580.4,1067.9 592.3,1063.4 604.2,1058.8 616.1,1054.1 627.9,1049.2 639.8,1044.3 651.7,1039.2 663.6,1034 675.4,1028.6 687.3,1023.1 699.2,1017.5 711,1011.8 722.9,1005.9 734.8,999.9 746.7,993.7 758.5,987.4 770.4,980.9 782.3,974.4 794.2,967.6 806,960.8 817.9,953.8 829.8,946.7 841.7,939.5 853.5,932.2 865.4,924.8 877.3,917.3 889.1,909.6 901,901.9 912.9,894.1 924.8,886.1 936.6,878.1 948.5,870 960.4,861.9 972.3,853.6 984.1,845.3 996,836.9 1007.9,828.4 1019.7,819.9 1031.6,811.3 1043.5,802.7 1055.4,794 1067.2,785.3 1079.1,776.5 1091,767.7 1102.9,758.8 1114.7,749.9 1126.6,741.1 1138.5,732.2 1150.4,723.3 1162.2,714.5 1174.1,705.8 1186,697.1 1197.8,688.5 1209.7,680 1221.6,671.5 1233.5,663 1245.3,654.4 1257.2,645.7 1269.1,636.8 1281,627.8 1292.8,618.5 1304.7,609 1316.6,599.2 1328.4,589.2 1340.3,579 1352.2,568.5 1364.1,557.7 1375.9,546.7 1387.8,535.5 1399.7,524 1411.6,512.2 1423.4,500.4 1435.3,488.4 1447.2,476.3 1459.1,464.2 1470.9,452.3 1482.8,440.6 1494.7,429.2 1506.5,418.3 1518.4,407.7 1530.3,397.5 1542.2,387.5 1554,377.8 1565.9,368.3 1577.8,359.1 1589.7,349.9 1601.5,341 1613.4,332.1 1625.3,323.3 1637.1,314.5 1649,305.8 1660.9,297 1672.8,288.1 1684.6,279.2 1696.5,270.2 1708.4,261.2 1720.3,252.1 1732.1,243 1744,233.8 1755.9,224.7 1767.8,215.6 1779.6,206.5 1791.5,197.4 1791.5,222.1 1779.6,231.8 1767.8,241.3 1755.9,250.7 1744,259.9 1732.1,269 1720.3,278 1708.4,286.9 1696.5,295.8 1684.6,304.6 1672.8,313.4 1660.9,322.2 1649,331.1 1637.1,340 1625.3,349 1613.4,358.1 1601.5,367.5 1589.7,376.9 1577.8,386.7 1565.9,396.6 1554,406.8 1542.2,417.1 1530.3,427.7 1518.4,438.5 1506.5,449.4 1494.7,460.6 1482.8,471.9 1470.9,483.3 1459.1,494.9 1447.2,506.5 1435.3,518.1 1423.4,529.7 1411.6,541.2 1399.7,552.6 1387.8,563.7 1375.9,574.7 1364.1,585.4 1352.2,595.9 1340.3,606.2 1328.4,616.2 1316.6,626.1 1304.7,635.7 1292.8,645.2 1281,654.4 1269.1,663.5 1257.2,672.4 1245.3,681.2 1233.5,689.9 1221.6,698.6 1209.7,707.2 1197.8,715.9 1186,724.6 1174.1,733.4 1162.2,742.2 1150.4,751 1138.5,759.9 1126.6,768.8 1114.7,777.6 1102.9,786.5 1091,795.3 1079.1,804 1067.2,812.7 1055.4,821.4 1043.5,829.9 1031.6,838.5 1019.7,846.9 1007.9,855.3 996,863.6 984.1,871.8 972.3,880 960.4,888.1 948.5,896.1 936.6,904 924.8,911.8 912.9,919.6 901,927.3 889.1,934.9 877.3,942.4 865.4,949.8 853.5,957.1 841.7,964.3 829.8,971.4 817.9,978.4 806,985.3 794.2,992.1 782.3,998.8 770.4,1005.4 758.5,1011.9 746.7,1018.3 734.8,1024.5 722.9,1030.7 711,1036.7 699.2,1042.6 687.3,1048.3 675.4,1053.9 663.6,1059.4 651.7,1064.8 639.8,1070 627.9,1075 616.1,1080 604.2,1084.7 592.3,1089.3 580.4,1093.7 568.6,1098 556.7,1102.1 544.8,1106 533,1109.7 521.1,1113.3 509.2,1116.8 497.3,1120.1 485.5,1123.4 473.6,1126.6 461.7,1129.8 449.8,1133 438,1136.3 426.1,1139.6 414.2,1142.9 402.3,1146.4 390.5,1150 378.6,1153.7Z" fill="#00ffff"/>
<path d="M378.6,1144.5 390.5,1135.9 402.3,1127.2 414.2,1118.5 426.1,1109.9 438,1101.2 449.8,1092.5 461.7,1083.8 473.6,1075.1 485.5,1066.4 497.3,1057.6 509.2,1048.8 521.1,1040 533,1031.1 544.8,1022.2 556.7,1013.2 568.6,1004.2 580.4,995.1 592.3,985.9 604.2,976.7 616.1,967.4 627.9,958.1 639.8,948.6 651.7,939.1 663.6,929.5 675.4,919.8 687.3,909.9 699.2,900 711,890 722.9,879.9 734.8,869.6 746.7,859.2 758.5,848.8 770.4,838.3 782.3,827.9 794.2,817.7 806,807.5 817.9,797.5 829.8,787.5 841.7,777.5 853.5,767.6 865.4,757.6 877.3,747.6 889.1,737.5 901,727.3 912.9,717.1 924.8,706.7 936.6,696.1 948.5,685.4 960.4,674.6 972.3,663.6 984.1,652.5 996,641.3 1007.9,630.1 1019.7,618.9 1031.6,607.6 1043.5,596.4 1055.4,585.2 1067.2,574.1 1079.1,563.1 1091,552.2 1102.9,541.4 1114.7,530.8 1126.6,520.3 1138.5,509.9 1150.4,499.7 1162.2,489.7 1174.1,479.8 1186,470.1 1197.8,460.5 1209.7,451 1221.6,441.7 1233.5,432.6 1245.3,423.6 1257.2,414.8 1269.1,406.2 1281,397.7 1292.8,389.4 1304.7,381.2 1316.6,373.2 1328.4,365.4 1340.3,357.7 1352.2,350.2 1364.1,342.9 1375.9,335.8 1387.8,328.8 1399.7,322.1 1411.6,315.5 1423.4,309 1435.3,302.8 1447.2,296.7 1459.1,290.8 1470.9,285.1 1482.8,279.6 1494.7,274.3 1506.5,269.2 1518.4,264.2 1530.3,259.4 1542.2,254.8 1554,250.4 1565.9,246 1577.8,241.9 1589.7,237.8 1601.5,233.9 1613.4,230.1 1625.3,226.5 1637.1,222.9 1649,219.4 1660.9,216.1 1672.8,212.8 1684.6,209.6 1696.5,206.5 1708.4,203.4 1720.3,200.4 1732.1,197.5 1744,194.5 1755.9,191.7 1767.8,188.9 1779.6,186 1791.5,183.3 1791.5,208 1779.6,210.7 1767.8,213.4 1755.9,216.1 1744,218.9 1732.1,221.8 1720.3,224.6 1708.4,227.6 1696.5,230.6 1684.6,233.7 1672.8,236.9 1660.9,240.1 1649,243.5 1637.1,246.9 1625.3,250.5 1613.4,254.1 1601.5,257.9 1589.7,261.8 1577.8,265.9 1565.9,270.1 1554,274.5 1542.2,279 1530.3,283.6 1518.4,288.5 1506.5,293.5 1494.7,298.7 1482.8,304.1 1470.9,309.7 1459.1,315.5 1447.2,321.5 1435.3,327.7 1423.4,334.1 1411.6,340.6 1399.7,347.3 1387.8,354.3 1375.9,361.4 1364.1,368.6 1352.2,376.1 1340.3,383.7 1328.4,391.5 1316.6,399.5 1304.7,407.6 1292.8,416 1281,424.4 1269.1,433.1 1257.2,441.9 1245.3,450.8 1233.5,460 1221.6,469.2 1209.7,478.7 1197.8,488.2 1186,498 1174.1,507.8 1162.2,517.9 1150.4,528 1138.5,538.3 1126.6,548.8 1114.7,559.4 1102.9,570.1 1091,581 1079.1,592 1067.2,603.1 1055.4,614.2 1043.5,625.5 1031.6,636.7 1019.7,648 1007.9,659.2 996,670.5 984.1,681.6 972.3,692.6 960.4,703.6 948.5,714.4 936.6,725 924.8,735.4 912.9,745.7 901,755.8 889.1,765.8 877.3,775.7 865.4,785.5 853.5,795.3 841.7,804.9 829.8,814.6 817.9,824.3 806,834 794.2,844 782.3,854.2 770.4,864.6 758.5,875.1 746.7,885.8 734.8,896.3 722.9,906.7 711,917 699.2,927.1 687.3,937.2 675.4,947.1 663.6,956.9 651.7,966.6 639.8,976.1 627.9,985.6 616.1,995 604.2,1004.3 592.3,1013.5 580.4,1022.6 568.6,1031.6 556.7,1040.6 544.8,1049.5 533,1058.3 521.1,1067 509.2,1075.8 497.3,1084.4 485.5,1093 473.6,1101.6 461.7,1110.1 449.8,1118.6 438,1127.1 426.1,1135.6 414.2,1144 402.3,1152.4 390.5,1160.8 378.6,1169.2Z" fill="#ff00ff"/>
<path d="M378.6,1144.6 390.5,1144.3 402.3,1143.6 414.2,1142.4 426.1,1140.8 438,1138.8 449.8,1136.4 461.7,1133.6 473.6,1130.5 485.5,1127.2 497.3,1123.6 509.2,1119.7 521.1,1115.6 533,1111.4 544.8,1106.9 556.7,1102.4 568.6,1097.7 580.4,1092.8 592.3,1087.8 604.2,1082.7 616.1,1077.5 627.9,1072.1 639.8,1066.5 651.7,1060.9 663.6,1055.1 675.4,1049.2 687.3,1043.1 699.2,1037 711,1030.7 722.9,1024.3 734.8,1017.8 746.7,1011.1 758.5,1004.4 770.4,997.5 782.3,990.5 794.2,983.4 806,976.2 817.9,968.9 829.8,961.5 841.7,954 853.5,946.5 865.4,938.8 877.3,931 889.1,923.1 901,915.2 912.9,907.2 924.8,899 936.6,890.8 948.5,882.6 960.4,874.2 972.3,865.8 984.1,857.3 996,848.8 1007.9,840.2 1019.7,831.5 1031.6,822.8 1043.5,814 1055.4,805.1 1067.2,796.2 1079.1,787.3 1091,778.3 1102.9,769.2 1114.7,760.2 1126.6,751.1 1138.5,741.9 1150.4,732.8 1162.2,723.6 1174.1,714.5 1186,705.3 1197.8,696.2 1209.7,687 1221.6,677.8 1233.5,668.6 1245.3,659.2 1257.2,649.6 1269.1,639.8 1281,629.8 1292.8,619.6 1304.7,609.1 1316.6,598.3 1328.4,587.4 1340.3,576.2 1352.2,564.9 1364.1,553.4 1375.9,541.9 1387.8,530.2 1399.7,518.5 1411.6,506.8 1423.4,495 1435.3,483.3 1447.2,471.7 1459.1,460.1 1470.9,448.6 1482.8,437.2 1494.7,426 1506.5,414.9 1518.4,404.1 1530.3,393.3 1542.2,382.7 1554,372.2 1565.9,361.9 1577.8,351.7 1589.7,341.6 1601.5,331.7 1613.4,321.8 1625.3,312.1 1637.1,302.4 1649,292.8 1660.9,283.4 1672.8,274 1684.6,264.7 1696.5,255.4 1708.4,246.2 1720.3,237.1 1732.1,228 1744,219 1755.9,210 1767.8,201.1 1779.6,192.2 1791.5,183.3 1791.5,208 1779.6,217 1767.8,226 1755.9,235.1 1744,244.3 1732.1,253.5 1720.3,262.8 1708.4,272.2 1696.5,281.6 1684.6,291.1 1672.8,300.7 1660.9,310.4 1649,320.1 1637.1,330 1625.3,339.9 1613.4,349.9 1601.5,360 1589.7,370.2 1577.8,380.5 1565.9,390.9 1554,401.5 1542.2,412.1 1530.3,422.8 1518.4,433.7 1506.5,444.6 1494.7,455.7 1482.8,466.9 1470.9,478.2 1459.1,489.6 1447.2,501.1 1435.3,512.7 1423.4,524.2 1411.6,535.8 1399.7,547.3 1387.8,558.9 1375.9,570.3 1364.1,581.7 1352.2,593 1340.3,604.1 1328.4,615.1 1316.6,625.9 1304.7,636.6 1292.8,647 1281,657.2 1269.1,667.1 1257.2,676.9 1245.3,686.4 1233.5,695.9 1221.6,705.2 1209.7,714.4 1197.8,723.6 1186,732.8 1174.1,742 1162.2,751.1 1150.4,760.3 1138.5,769.4 1126.6,778.5 1114.7,787.6 1102.9,796.6 1091,805.6 1079.1,814.6 1067.2,823.5 1055.4,832.4 1043.5,841.1 1031.6,849.9 1019.7,858.5 1007.9,867.2 996,875.7 984.1,884.2 972.3,892.6 960.4,900.9 948.5,909.2 936.6,917.4 924.8,925.5 912.9,933.5 901,941.4 889.1,949.3 877.3,957.1 865.4,964.7 853.5,972.3 841.7,979.8 829.8,987.2 817.9,994.5 806,1001.7 794.2,1008.8 782.3,1015.8 770.4,1022.7 758.5,1029.5 746.7,1036.2 734.8,1042.7 722.9,1049.2 711,1055.5 699.2,1061.7 687.3,1067.8 675.4,1073.8 663.6,1079.6 651.7,1085.3 639.8,1090.9 627.9,1096.4 616.1,1101.7 604.2,1106.9 592.3,1111.9 580.4,1116.8 568.6,1121.6 556.7,1126.3 544.8,1130.8 533,1135.1 521.1,1139.3 509.2,1143.3 497.3,1147.1 485.5,1150.7 473.6,1154.1 461.7,1157.2 449.8,1159.9 438,1162.4 426.1,1164.6 414.2,1166.3 402.3,1167.7 390.5,1168.7 378.6,1169.3Z" fill="#ff00ff"/>
<path d="M378.6,1157.5 390.5,1147.7 402.3,1138.1 414.2,1128.8 426.1,1119.6 438,1110.6 449.8,1101.7 461.7,1092.9 473.6,1084.1 485.5,1075.4 497.3,1066.6 509.2,1057.7 521.1,1048.7 533,1039.6 544.8,1030.2 556.7,1020.7 568.6,1011.1 580.4,1001.2 592.3,991.2 604.2,981.1 616.1,970.9 627.9,960.6 639.8,950.2 651.7,939.7 663.6,929.1 675.4,918.5 687.3,907.9 699.2,897.2 711,886.6 722.9,876 734.8,865.4 746.7,854.8 758.5,844.3 770.4,833.8 782.3,823.4 794.2,813.1 806,802.8 817.9,792.6 829.8,782.5 841.7,772.5 853.5,762.6 865.4,752.7 877.3,742.8 889.1,732.9 901,722.8 912.9,712.6 924.8,702.2 936.6,691.6 948.5,680.7 960.4,669.6 972.3,658.2 984.1,646.7 996,635 1007.9,623.2 1019.7,611.3 1031.6,599.4 1043.5,587.6 1055.4,575.7 1067.2,564 1079.1,552.3 1091,540.8 1102.9,529.5 1114.7,518.4 1126.6,507.4 1138.5,496.7 1150.4,486.1 1162.2,475.7 1174.1,465.5 1186,455.5 1197.8,445.7 1209.7,436 1221.6,426.5 1233.5,417.3 1245.3,408.1 1257.2,399.2 1269.1,390.4 1281,381.8 1292.8,373.4 1304.7,365.2 1316.6,357.1 1328.4,349.2 1340.3,341.5 1352.2,333.9 1364.1,326.5 1375.9,319.3 1387.8,312.2 1399.7,305.3 1411.6,298.6 1423.4,292 1435.3,285.6 1447.2,279.3 1459.1,273.2 1470.9,267.3 1482.8,261.5 1494.7,255.9 1506.5,250.4 1518.4,245.1 1530.3,239.9 1542.2,234.9 1554,230.1 1565.9,225.4 1577.8,220.9 1589.7,216.5 1601.5,212.3 1613.4,208.3 1625.3,204.4 1637.1,200.7 1649,197.2 1660.9,193.8 1672.8,190.6 1684.6,187.5 1696.5,184.6 1708.4,181.9 1720.3,179.3 1732.1,177 1744,174.7 1755.9,172.7 1767.8,170.8 1779.6,169.1 1791.5,167.6 1791.5,192.3 1779.6,193.9 1767.8,195.6 1755.9,197.4 1744,199.5 1732.1,201.7 1720.3,204 1708.4,206.5 1696.5,209.2 1684.6,212 1672.8,215 1660.9,218.2 1649,221.5 1637.1,225 1625.3,228.7 1613.4,232.5 1601.5,236.5 1589.7,240.6 1577.8,244.9 1565.9,249.4 1554,254.1 1542.2,258.9 1530.3,264 1518.4,269.1 1506.5,274.5 1494.7,280 1482.8,285.7 1470.9,291.6 1459.1,297.6 1447.2,303.9 1435.3,310.3 1423.4,316.8 1411.6,323.6 1399.7,330.5 1387.8,337.6 1375.9,344.8 1364.1,352.3 1352.2,359.9 1340.3,367.7 1328.4,375.6 1316.6,383.7 1304.7,392 1292.8,400.5 1281,409.1 1269.1,417.9 1257.2,426.9 1245.3,436 1233.5,445.3 1221.6,454.8 1209.7,464.5 1197.8,474.3 1186,484.2 1174.1,494.4 1162.2,504.7 1150.4,515.2 1138.5,525.8 1126.6,536.7 1114.7,547.6 1102.9,558.8 1091,570.1 1079.1,581.6 1067.2,593.2 1055.4,604.9 1043.5,616.6 1031.6,628.4 1019.7,640.2 1007.9,652 996,663.7 984.1,675.3 972.3,686.7 960.4,698 948.5,709.2 936.6,720 924.8,730.7 912.9,741.1 901,751.3 889.1,761.4 877.3,771.4 865.4,781.3 853.5,791.2 841.7,801.2 829.8,811.2 817.9,821.2 806,831.4 794.2,841.6 782.3,851.8 770.4,862.2 758.5,872.6 746.7,883 734.8,893.5 722.9,904 711,914.5 699.2,925.1 687.3,935.7 675.4,946.2 663.6,956.8 651.7,967.2 639.8,977.7 627.9,988 616.1,998.3 604.2,1008.5 592.3,1018.6 580.4,1028.5 568.6,1038.3 556.7,1048 544.8,1057.5 533,1066.8 521.1,1075.9 509.2,1084.9 497.3,1093.7 485.5,1102.5 473.6,1111.2 461.7,1119.9 449.8,1128.5 438,1137.2 426.1,1146 414.2,1154.8 402.3,1163.8 390.5,1172.9 378.6,1182.2Z" fill="#ffff00"/>
<path d="M378.6,1157.5 390.5,1156.3 402.3,1155 414.2,1153.3 426.1,1151.5 438,1149.4 449.8,1147.1 461.7,1144.6 473.6,1141.9 485.5,1139 497.3,1135.8 509.2,1132.5 521.1,1128.9 533,1125.2 544.8,1121.2 556.7,1117.1 568.6,1112.8 580.4,1108.2 592.3,1103.5 604.2,1098.7 616.1,1093.6 627.9,1088.4 639.8,1083 651.7,1077.5 663.6,1071.8 675.4,1065.9 687.3,1059.9 699.2,1053.7 711,1047.4 722.9,1040.9 734.8,1034.3 746.7,1027.5 758.5,1020.7 770.4,1013.7 782.3,1006.5 794.2,999.3 806,991.9 817.9,984.4 829.8,976.8 841.7,969.1 853.5,961.2 865.4,953.3 877.3,945.3 889.1,937.2 901,928.9 912.9,920.6 924.8,912.2 936.6,903.8 948.5,895.2 960.4,886.6 972.3,877.9 984.1,869.1 996,860.3 1007.9,851.4 1019.7,842.4 1031.6,833.4 1043.5,824.4 1055.4,815.3 1067.2,806.1 1079.1,796.9 1091,787.7 1102.9,778.4 1114.7,769.1 1126.6,759.8 1138.5,750.4 1150.4,741 1162.2,731.6 1174.1,722.1 1186,712.6 1197.8,703.1 1209.7,693.5 1221.6,683.8 1233.5,674 1245.3,664.1 1257.2,654.1 1269.1,643.8 1281,633.4 1292.8,622.8 1304.7,611.9 1316.6,600.8 1328.4,589.6 1340.3,578.2 1352.2,566.6 1364.1,554.9 1375.9,543.1 1387.8,531.2 1399.7,519.3 1411.6,507.3 1423.4,495.2 1435.3,483.2 1447.2,471.2 1459.1,459.1 1470.9,447.2 1482.8,435.3 1494.7,423.5 1506.5,411.8 1518.4,400.2 1530.3,388.7 1542.2,377.3 1554,366 1565.9,354.9 1577.8,343.9 1589.7,333 1601.5,322.2 1613.4,311.6 1625.3,301.2 1637.1,290.9 1649,280.7 1660.9,270.7 1672.8,260.9 1684.6,251.2 1696.5,241.7 1708.4,232.2 1720.3,222.9 1732.1,213.7 1744,204.5 1755.9,195.3 1767.8,186.1 1779.6,176.9 1791.5,167.7 1791.5,192.3 1779.6,202.6 1767.8,212.5 1755.9,222.2 1744,231.7 1732.1,241.1 1720.3,250.5 1708.4,259.8 1696.5,269.2 1684.6,278.6 1672.8,288.3 1660.9,298.1 1649,308.2 1637.1,318.6 1625.3,329.1 1613.4,339.8 1601.5,350.7 1589.7,361.7 1577.8,372.9 1565.9,384.3 1554,395.7 1542.2,407.3 1530.3,418.9 1518.4,430.6 1506.5,442.4 1494.7,454.2 1482.8,466 1470.9,477.9 1459.1,489.7 1447.2,501.6 1435.3,513.4 1423.4,525.2 1411.6,537 1399.7,548.7 1387.8,560.4 1375.9,572 1364.1,583.5 1352.2,594.9 1340.3,606.2 1328.4,617.4 1316.6,628.5 1304.7,639.4 1292.8,650.2 1281,660.9 1269.1,671.4 1257.2,681.7 1245.3,691.9 1233.5,701.9 1221.6,711.9 1209.7,721.7 1197.8,731.4 1186,741 1174.1,750.6 1162.2,760 1150.4,769.4 1138.5,778.7 1126.6,787.9 1114.7,797.1 1102.9,806.2 1091,815.4 1079.1,824.5 1067.2,833.5 1055.4,842.5 1043.5,851.5 1031.6,860.5 1019.7,869.4 1007.9,878.3 996,887.1 984.1,895.8 972.3,904.5 960.4,913.1 948.5,921.7 936.6,930.2 924.8,938.6 912.9,947 901,955.2 889.1,963.4 877.3,971.5 865.4,979.5 853.5,987.4 841.7,995.2 829.8,1002.9 817.9,1010.5 806,1018 794.2,1025.3 782.3,1032.6 770.4,1039.7 758.5,1046.7 746.7,1053.6 734.8,1060.3 722.9,1066.9 711,1073.4 699.2,1079.7 687.3,1085.9 675.4,1091.9 663.6,1097.7 651.7,1103.4 639.8,1109 627.9,1114.4 616.1,1119.6 604.2,1124.6 592.3,1129.4 580.4,1134.1 568.6,1138.6 556.7,1142.9 544.8,1147 533,1150.9 521.1,1154.6 509.2,1158.1 497.3,1161.4 485.5,1164.5 473.6,1167.3 461.7,1170 449.8,1172.4 438,1174.6 426.1,1176.6 414.2,1178.3 402.3,1179.8 390.5,1181.1 378.6,1182.1Z" fill="#ffff00"/>
<path d="M378.6,1175.4 390.5,1165.9 402.3,1156.3 414.2,1146.6 426.1,1136.9 438,1127.1 449.8,1117.2 461.7,1107.3 473.6,1097.3 485.5,1087.3 497.3,1077.2 509.2,1067 521.1,1056.8 533,1046.5 544.8,1036.1 556.7,1025.7 568.6,1015.3 580.4,1004.7 592.3,994.2 604.2,983.5 616.1,972.8 627.9,962.1 639.8,951.3 651.7,940.4 663.6,929.5 675.4,918.5 687.3,907.5 699.2,896.4 711,885.3 722.9,874.1 734.8,862.8 746.7,851.5 758.5,840.2 770.4,828.9 782.3,817.7 794.2,806.7 806,795.8 817.9,785.1 829.8,774.8 841.7,764.7 853.5,755 865.4,745.4 877.3,736 889.1,726.6 901,717.1 912.9,707.4 924.8,697.4 936.6,687 948.5,676.1 960.4,664.8 972.3,653 984.1,641 996,628.6 1007.9,616.1 1019.7,603.4 1031.6,590.6 1043.5,577.7 1055.4,564.9 1067.2,552.1 1079.1,539.5 1091,527 1102.9,514.9 1114.7,502.9 1126.6,491.2 1138.5,479.8 1150.4,468.6 1162.2,457.7 1174.1,446.9 1186,436.5 1197.8,426.2 1209.7,416.2 1221.6,406.4 1233.5,396.8 1245.3,387.4 1257.2,378.3 1269.1,369.3 1281,360.6 1292.8,352 1304.7,343.7 1316.6,335.6 1328.4,327.6 1340.3,319.9 1352.2,312.3 1364.1,304.9 1375.9,297.7 1387.8,290.6 1399.7,283.8 1411.6,277.1 1423.4,270.5 1435.3,264.2 1447.2,258 1459.1,251.9 1470.9,246 1482.8,240.2 1494.7,234.6 1506.5,229.1 1518.4,223.8 1530.3,218.7 1542.2,213.7 1554,208.8 1565.9,204.1 1577.8,199.6 1589.7,195.3 1601.5,191.1 1613.4,187.1 1625.3,183.4 1637.1,179.8 1649,176.3 1660.9,173.1 1672.8,170.1 1684.6,167.3 1696.5,164.7 1708.4,162.4 1720.3,160.2 1732.1,158.3 1744,156.5 1755.9,155.1 1767.8,153.8 1779.6,152.8 1791.5,152 1791.5,176.7 1779.6,177.4 1767.8,178.3 1755.9,179.5 1744,181 1732.1,182.7 1720.3,184.6 1708.4,186.8 1696.5,189.2 1684.6,191.9 1672.8,194.7 1660.9,197.8 1649,201.1 1637.1,204.6 1625.3,208.3 1613.4,212.2 1601.5,216.3 1589.7,220.6 1577.8,225 1565.9,229.6 1554,234.4 1542.2,239.4 1530.3,244.5 1518.4,249.8 1506.5,255.2 1494.7,260.7 1482.8,266.4 1470.9,272.3 1459.1,278.2 1447.2,284.3 1435.3,290.6 1423.4,297 1411.6,303.6 1399.7,310.3 1387.8,317.2 1375.9,324.3 1364.1,331.5 1352.2,338.9 1340.3,346.5 1328.4,354.3 1316.6,362.3 1304.7,370.5 1292.8,378.9 1281,387.5 1269.1,396.3 1257.2,405.3 1245.3,414.5 1233.5,424 1221.6,433.7 1209.7,443.7 1197.8,453.8 1186,464.3 1174.1,475 1162.2,485.9 1150.4,497.2 1138.5,508.7 1126.6,520.4 1114.7,532.5 1102.9,544.8 1091,557.5 1079.1,570.4 1067.2,583.5 1055.4,596.6 1043.5,609.6 1031.6,622.4 1019.7,634.9 1007.9,647 996,658.7 984.1,670.1 972.3,681.2 960.4,692 948.5,702.7 936.6,713.2 924.8,723.6 912.9,733.9 901,744.2 889.1,754.4 877.3,764.6 865.4,774.8 853.5,784.9 841.7,795.1 829.8,805.3 817.9,815.5 806,825.8 794.2,836.1 782.3,846.6 770.4,857.1 758.5,867.7 746.7,878.5 734.8,889.4 722.9,900.5 711,911.7 699.2,923 687.3,934.4 675.4,945.8 663.6,957.3 651.7,968.7 639.8,980.1 627.9,991.4 616.1,1002.7 604.2,1013.8 592.3,1024.8 580.4,1035.6 568.6,1046.3 556.7,1056.7 544.8,1066.8 533,1076.7 521.1,1086.3 509.2,1095.7 497.3,1104.9 485.5,1114 473.6,1123.1 461.7,1132.1 449.8,1141.3 438,1150.5 426.1,1159.9 414.2,1169.5 402.3,1179.5 390.5,1189.7 378.6,1200.3Z" fill="#808000"/>
<path d="M378.6,1175.6 390.5,1174.7 402.3,1173.6 414.2,1172.3 426.1,1170.7 438,1168.9 449.8,1166.9 461.7,1164.6 473.6,1162.1 485.5,1159.4 497.3,1156.5 509.2,1153.3 521.1,1150 533,1146.4 544.8,1142.6 556.7,1138.6 568.6,1134.4 580.4,1130 592.3,1125.5 604.2,1120.7 616.1,1115.7 627.9,1110.6 639.8,1105.3 651.7,1099.8 663.6,1094.1 675.4,1088.3 687.3,1082.3 699.2,1076.1 711,1069.7 722.9,1063.2 734.8,1056.6 746.7,1049.8 758.5,1042.8 770.4,1035.7 782.3,1028.4 794.2,1021 806,1013.5 817.9,1005.8 829.8,998 841.7,990.1 853.5,982 865.4,973.9 877.3,965.6 889.1,957.2 901,948.6 912.9,940 924.8,931.3 936.6,922.4 948.5,913.5 960.4,904.4 972.3,895.3 984.1,886.1 996,876.8 1007.9,867.4 1019.7,857.9 1031.6,848.3 1043.5,838.7 1055.4,829 1067.2,819.2 1079.1,809.4 1091,799.5 1102.9,789.5 1114.7,779.5 1126.6,769.5 1138.5,759.4 1150.4,749.4 1162.2,739.3 1174.1,729.3 1186,719.4 1197.8,709.5 1209.7,699.7 1221.6,689.8 1233.5,679.9 1245.3,669.9 1257.2,659.8 1269.1,649.6 1281,639.2 1292.8,628.5 1304.7,617.6 1316.6,606.5 1328.4,595.4 1340.3,584.1 1352.2,572.8 1364.1,561.3 1375.9,549.7 1387.8,537.8 1399.7,525.7 1411.6,513.3 1423.4,500.7 1435.3,487.9 1447.2,475.1 1459.1,462.2 1470.9,449.2 1482.8,436.3 1494.7,423.4 1506.5,410.7 1518.4,398.1 1530.3,385.6 1542.2,373.2 1554,361 1565.9,348.9 1577.8,337 1589.7,325.4 1601.5,313.9 1613.4,302.6 1625.3,291.6 1637.1,280.8 1649,270.3 1660.9,260.1 1672.8,250.1 1684.6,240.4 1696.5,230.9 1708.4,221.5 1720.3,212.1 1732.1,202.7 1744,193.2 1755.9,183.4 1767.8,173.3 1779.6,162.9 1791.5,152 1791.5,176.7 1779.6,187.4 1767.8,197.8 1755.9,207.9 1744,217.9 1732.1,227.7 1720.3,237.5 1708.4,247.3 1696.5,257.1 1684.6,267.1 1672.8,277.2 1660.9,287.6 1649,298.2 1637.1,309.1 1625.3,320.2 1613.4,331.4 1601.5,342.9 1589.7,354.6 1577.8,366.4 1565.9,378.4 1554,390.5 1542.2,402.7 1530.3,415 1518.4,427.4 1506.5,439.9 1494.7,452.5 1482.8,465.1 1470.9,477.7 1459.1,490.3 1447.2,502.9 1435.3,515.5 1423.4,528.1 1411.6,540.5 1399.7,552.9 1387.8,565.2 1375.9,577.4 1364.1,589.5 1352.2,601.4 1340.3,613.1 1328.4,624.6 1316.6,635.9 1304.7,647 1292.8,657.9 1281,668.5 1269.1,678.8 1257.2,689 1245.3,698.9 1233.5,708.8 1221.6,718.5 1209.7,728.3 1197.8,738 1186,747.8 1174.1,757.7 1162.2,767.6 1150.4,777.6 1138.5,787.6 1126.6,797.6 1114.7,807.6 1102.9,817.5 1091,827.5 1079.1,837.3 1067.2,847.1 1055.4,856.8 1043.5,866.5 1031.6,876 1019.7,885.5 1007.9,894.9 996,904.2 984.1,913.5 972.3,922.6 960.4,931.7 948.5,940.6 936.6,949.4 924.8,958.2 912.9,966.8 901,975.3 889.1,983.8 877.3,992.1 865.4,1000.2 853.5,1008.3 841.7,1016.2 829.8,1024.1 817.9,1031.8 806,1039.3 794.2,1046.7 782.3,1054 770.4,1061.2 758.5,1068.2 746.7,1075 734.8,1081.7 722.9,1088.3 711,1094.7 699.2,1101 687.3,1107 675.4,1113 663.6,1118.7 651.7,1124.3 639.8,1129.8 627.9,1135 616.1,1140.1 604.2,1145 592.3,1149.7 580.4,1154.2 568.6,1158.6 556.7,1162.7 544.8,1166.7 533,1170.5 521.1,1174 509.2,1177.4 497.3,1180.5 485.5,1183.5 473.6,1186.2 461.7,1188.8 449.8,1191.1 438,1193.2 426.1,1195 414.2,1196.7 402.3,1198.1 390.5,1199.3 378.6,1200.3Z" fill="#808000"/>
<path d="M378.6,1189.7 390.5,1179.3 402.3,1168.9 414.2,1158.6 426.1,1148.2 438,1137.7 449.8,1127.3 461.7,1116.8 473.6,1106.3 485.5,1095.8 497.3,1085.2 509.2,1074.6 521.1,1063.9 533,1053.2 544.8,1042.4 556.7,1031.6 568.6,1020.7 580.4,1009.8 592.3,998.8 604.2,987.7 616.1,976.6 627.9,965.3 639.8,954 651.7,942.6 663.6,931.2 675.4,919.6 687.3,907.9 699.2,896.2 711,884.3 722.9,872.3 734.8,860.2 746.7,848.1 758.5,835.8 770.4,823.6 782.3,811.6 794.2,799.7 806,788.1 817.9,776.9 829.8,766.1 841.7,755.8 853.5,746.1 865.4,736.7 877.3,727.6 889.1,718.5 901,709.4 912.9,700 924.8,690.3 936.6,680.1 948.5,669.3 960.4,657.8 972.3,645.9 984.1,633.4 996,620.6 1007.9,607.4 1019.7,593.9 1031.6,580.3 1043.5,566.5 1055.4,552.7 1067.2,539.1 1079.1,525.8 1091,512.9 1102.9,500.5 1114.7,488.6 1126.6,477.1 1138.5,465.9 1150.4,455 1162.2,444.3 1174.1,433.7 1186,423.2 1197.8,412.8 1209.7,402.3 1221.6,391.9 1233.5,381.6 1245.3,371.5 1257.2,361.6 1269.1,351.9 1281,342.5 1292.8,333.4 1304.7,324.6 1316.6,316.1 1328.4,307.9 1340.3,300 1352.2,292.4 1364.1,285.1 1375.9,278 1387.8,271.1 1399.7,264.5 1411.6,258 1423.4,251.8 1435.3,245.7 1447.2,239.8 1459.1,234 1470.9,228.4 1482.8,222.9 1494.7,217.5 1506.5,212.3 1518.4,207.1 1530.3,202.1 1542.2,197.2 1554,192.5 1565.9,187.9 1577.8,183.5 1589.7,179.2 1601.5,175.1 1613.4,171.2 1625.3,167.5 1637.1,163.9 1649,160.6 1660.9,157.5 1672.8,154.6 1684.6,151.9 1696.5,149.5 1708.4,147.3 1720.3,145.3 1732.1,143.6 1744,142.2 1755.9,141.1 1767.8,140.2 1779.6,139.6 1791.5,139.3 1791.5,163.9 1779.6,163.5 1767.8,163.4 1755.9,163.6 1744,164.2 1732.1,165.1 1720.3,166.4 1708.4,168 1696.5,169.9 1684.6,172 1672.8,174.5 1660.9,177.2 1649,180.3 1637.1,183.5 1625.3,187 1613.4,190.8 1601.5,194.7 1589.7,198.9 1577.8,203.3 1565.9,207.9 1554,212.7 1542.2,217.6 1530.3,222.7 1518.4,228 1506.5,233.4 1494.7,238.9 1482.8,244.6 1470.9,250.4 1459.1,256.3 1447.2,262.4 1435.3,268.6 1423.4,275 1411.6,281.5 1399.7,288.2 1387.8,295.1 1375.9,302.2 1364.1,309.4 1352.2,316.9 1340.3,324.7 1328.4,332.6 1316.6,340.8 1304.7,349.2 1292.8,357.9 1281,366.9 1269.1,376.1 1257.2,385.6 1245.3,395.3 1233.5,405.4 1221.6,415.6 1209.7,426.2 1197.8,437 1186,448 1174.1,459.3 1162.2,470.9 1150.4,482.7 1138.5,494.7 1126.6,507 1114.7,519.5 1102.9,532.3 1091,545.3 1079.1,558.5 1067.2,571.8 1055.4,585.3 1043.5,598.7 1031.6,611.9 1019.7,625 1007.9,637.9 996,650.4 984.1,662.6 972.3,674.5 960.4,686 948.5,697 936.6,707.6 924.8,717.8 912.9,727.6 901,737.1 889.1,746.5 877.3,755.9 865.4,765.4 853.5,775.1 841.7,785.1 829.8,795.6 817.9,806.5 806,817.8 794.2,829.4 782.3,841.2 770.4,853.2 758.5,865.3 746.7,877.4 734.8,889.5 722.9,901.5 711,913.4 699.2,925.2 687.3,936.9 675.4,948.5 663.6,960.1 651.7,971.5 639.8,982.9 627.9,994.2 616.1,1005.4 604.2,1016.5 592.3,1027.5 580.4,1038.5 568.6,1049.4 556.7,1060.2 544.8,1070.9 533,1081.6 521.1,1092.2 509.2,1102.7 497.3,1113.2 485.5,1123.6 473.6,1133.9 461.7,1144.2 449.8,1154.4 438,1164.5 426.1,1174.6 414.2,1184.6 402.3,1194.6 390.5,1204.5 378.6,1214.4Z" fill="#000080"/>
<path d="M378.6,1189.8 390.5,1189.7 402.3,1189.3 414.2,1188.6 426.1,1187.7 438,1186.4 449.8,1184.9 461.7,1183 473.6,1180.9 485.5,1178.6 497.3,1175.9 509.2,1173.1 521.1,1169.9 533,1166.6 544.8,1162.9 556.7,1159.1 568.6,1155 580.4,1150.7 592.3,1146.2 604.2,1141.4 616.1,1136.5 627.9,1131.3 639.8,1126 651.7,1120.5 663.6,1114.8 675.4,1108.9 687.3,1102.8 699.2,1096.6 711,1090.2 722.9,1083.6 734.8,1076.9 746.7,1070.1 758.5,1063.1 770.4,1056 782.3,1048.7 794.2,1041.3 806,1033.8 817.9,1026.1 829.8,1018.3 841.7,1010.4 853.5,1002.3 865.4,994.1 877.3,985.8 889.1,977.4 901,968.9 912.9,960.2 924.8,951.4 936.6,942.6 948.5,933.6 960.4,924.5 972.3,915.3 984.1,906 996,896.6 1007.9,887.1 1019.7,877.5 1031.6,867.8 1043.5,858 1055.4,848.1 1067.2,838.2 1079.1,828.1 1091,818 1102.9,807.8 1114.7,797.5 1126.6,787.1 1138.5,776.7 1150.4,766.2 1162.2,755.6 1174.1,744.9 1186,734.2 1197.8,723.4 1209.7,712.5 1221.6,701.6 1233.5,690.6 1245.3,679.5 1257.2,668.4 1269.1,657.2 1281,646 1292.8,634.7 1304.7,623.3 1316.6,611.9 1328.4,600.5 1340.3,588.9 1352.2,577.3 1364.1,565.5 1375.9,553.4 1387.8,541.1 1399.7,528.5 1411.6,515.5 1423.4,502.4 1435.3,489 1447.2,475.5 1459.1,461.9 1470.9,448.3 1482.8,434.7 1494.7,421.2 1506.5,407.8 1518.4,394.5 1530.3,381.3 1542.2,368.3 1554,355.5 1565.9,342.8 1577.8,330.3 1589.7,318.1 1601.5,306.1 1613.4,294.4 1625.3,282.9 1637.1,271.7 1649,260.8 1660.9,250.2 1672.8,239.9 1684.6,230 1696.5,220.3 1708.4,210.7 1720.3,201.1 1732.1,191.5 1744,181.7 1755.9,171.7 1767.8,161.3 1779.6,150.5 1791.5,139.2 1791.5,163.9 1779.6,175.1 1767.8,186 1755.9,196.7 1744,207.2 1732.1,217.6 1720.3,228 1708.4,238.3 1696.5,248.6 1684.6,259 1672.8,269.5 1660.9,280.1 1649,290.9 1637.1,301.9 1625.3,313.2 1613.4,324.7 1601.5,336.5 1589.7,348.6 1577.8,361 1565.9,373.7 1554,386.7 1542.2,399.8 1530.3,413.1 1518.4,426.4 1506.5,439.8 1494.7,453.2 1482.8,466.5 1470.9,479.6 1459.1,492.7 1447.2,505.7 1435.3,518.6 1423.4,531.3 1411.6,544 1399.7,556.5 1387.8,569 1375.9,581.3 1364.1,593.5 1352.2,605.6 1340.3,617.6 1328.4,629.5 1316.6,641.3 1304.7,653 1292.8,664.6 1281,676 1269.1,687.4 1257.2,698.6 1245.3,709.8 1233.5,720.8 1221.6,731.7 1209.7,742.6 1197.8,753.3 1186,763.9 1174.1,774.5 1162.2,785 1150.4,795.3 1138.5,805.6 1126.6,815.8 1114.7,825.9 1102.9,836 1091,845.9 1079.1,855.8 1067.2,865.6 1055.4,875.3 1043.5,885 1031.6,894.5 1019.7,904 1007.9,913.3 996,922.6 984.1,931.8 972.3,940.8 960.4,949.8 948.5,958.7 936.6,967.4 924.8,976.1 912.9,984.6 901,993.1 889.1,1001.4 877.3,1009.6 865.4,1017.7 853.5,1025.6 841.7,1033.5 829.8,1041.2 817.9,1048.8 806,1056.3 794.2,1063.6 782.3,1070.9 770.4,1078 758.5,1084.9 746.7,1091.7 734.8,1098.4 722.9,1105 711,1111.4 699.2,1117.6 687.3,1123.8 675.4,1129.7 663.6,1135.5 651.7,1141.1 639.8,1146.6 627.9,1151.9 616.1,1157 604.2,1161.9 592.3,1166.6 580.4,1171.2 568.6,1175.5 556.7,1179.7 544.8,1183.6 533,1187.3 521.1,1190.8 509.2,1194.1 497.3,1197.2 485.5,1200 473.6,1202.6 461.7,1205 449.8,1207.1 438,1208.9 426.1,1210.6 414.2,1211.9 402.3,1213 390.5,1213.8 378.6,1214.4Z" fill="#000080"/>
<path d="M378.6,1206.7 390.5,1193.8 402.3,1181.4 414.2,1169.4 426.1,1157.8 438,1146.6 449.8,1135.6 461.7,1124.8 473.6,1114.3 485.5,1103.8 497.3,1093.5 509.2,1083.1 521.1,1072.8 533,1062.3 544.8,1051.8 556.7,1041.1 568.6,1030.3 580.4,1019.4 592.3,1008.3 604.2,997.1 616.1,985.8 627.9,974.3 639.8,962.6 651.7,950.8 663.6,938.9 675.4,926.8 687.3,914.6 699.2,902.2 711,889.6 722.9,876.9 734.8,864.1 746.7,851.1 758.5,838 770.4,825 782.3,812.1 794.2,799.4 806,787 817.9,775.1 829.8,763.7 841.7,752.9 853.5,742.7 865.4,733 877.3,723.6 889.1,714.2 901,704.7 912.9,695 924.8,684.8 936.6,673.9 948.5,662.3 960.4,650 972.3,637 984.1,623.5 996,609.7 1007.9,595.5 1019.7,581.2 1031.6,566.8 1043.5,552.4 1055.4,538.2 1067.2,524.3 1079.1,510.5 1091,497.1 1102.9,483.9 1114.7,471 1126.6,458.4 1138.5,446 1150.4,433.8 1162.2,421.9 1174.1,410.3 1186,398.9 1197.8,387.8 1209.7,376.9 1221.6,366.3 1233.5,355.9 1245.3,345.8 1257.2,335.9 1269.1,326.3 1281,316.9 1292.8,307.7 1304.7,298.8 1316.6,290.1 1328.4,281.6 1340.3,273.4 1352.2,265.4 1364.1,257.7 1375.9,250.2 1387.8,242.9 1399.7,235.8 1411.6,228.9 1423.4,222.3 1435.3,215.9 1447.2,209.7 1459.1,203.7 1470.9,198 1482.8,192.5 1494.7,187.1 1506.5,182 1518.4,177.1 1530.3,172.5 1542.2,168 1554,163.7 1565.9,159.7 1577.8,155.8 1589.7,152.2 1601.5,148.7 1613.4,145.5 1625.3,142.5 1637.1,139.6 1649,137 1660.9,134.6 1672.8,132.3 1684.6,130.3 1696.5,128.4 1708.4,126.8 1720.3,125.3 1732.1,124 1744,122.9 1755.9,122 1767.8,121.3 1779.6,120.8 1791.5,120.5 1791.5,148.3 1779.6,145.6 1767.8,143.8 1755.9,142.7 1744,142.3 1732.1,142.5 1720.3,143.3 1708.4,144.6 1696.5,146.4 1684.6,148.7 1672.8,151.3 1660.9,154.3 1649,157.5 1637.1,161 1625.3,164.6 1613.4,168.4 1601.5,172.4 1589.7,176.6 1577.8,180.9 1565.9,185.4 1554,190 1542.2,194.8 1530.3,199.7 1518.4,204.8 1506.5,210 1494.7,215.3 1482.8,220.8 1470.9,226.4 1459.1,232.2 1447.2,238 1435.3,244 1423.4,250.1 1411.6,256.3 1399.7,262.7 1387.8,269.2 1375.9,276 1364.1,282.9 1352.2,290.1 1340.3,297.5 1328.4,305.2 1316.6,313.2 1304.7,321.5 1292.8,330 1281,339 1269.1,348.3 1257.2,357.9 1245.3,368 1233.5,378.5 1221.6,389.4 1209.7,400.6 1197.8,412.3 1186,424.3 1174.1,436.5 1162.2,449.1 1150.4,461.9 1138.5,474.9 1126.6,488.2 1114.7,501.6 1102.9,515.1 1091,528.8 1079.1,542.5 1067.2,556.3 1055.4,570.1 1043.5,583.9 1031.6,597.6 1019.7,611.2 1007.9,624.7 996,637.9 984.1,650.7 972.3,663.3 960.4,675.3 948.5,687 936.6,698 924.8,708.5 912.9,718.5 901,728.3 889.1,737.8 877.3,747.3 865.4,756.9 853.5,766.7 841.7,776.9 829.8,787.6 817.9,798.8 806,810.5 794.2,822.5 782.3,834.9 770.4,847.4 758.5,860.1 746.7,872.8 734.8,885.5 722.9,898.1 711,910.7 699.2,923.1 687.3,935.5 675.4,947.8 663.6,960 651.7,972.1 639.8,984.1 627.9,996.1 616.1,1008 604.2,1019.8 592.3,1031.5 580.4,1043.1 568.6,1054.7 556.7,1066.2 544.8,1077.6 533,1088.9 521.1,1100.2 509.2,1111.4 497.3,1122.5 485.5,1133.5 473.6,1144.5 461.7,1155.4 449.8,1166.2 438,1177 426.1,1187.6 414.2,1198.3 402.3,1208.8 390.5,1219.3 378.6,1229.7Z" fill="#800080"/>
<path d="M378.6,1206.5 390.5,1207.2 402.3,1207.5 414.2,1207.5 426.1,1207.1 438,1206.4 449.8,1205.4 461.7,1204 473.6,1202.3 485.5,1200.2 497.3,1197.9 509.2,1195.3 521.1,1192.4 533,1189.2 544.8,1185.7 556.7,1182 568.6,1178 580.4,1173.8 592.3,1169.3 604.2,1164.6 616.1,1159.7 627.9,1154.5 639.8,1149.2 651.7,1143.7 663.6,1137.9 675.4,1132 687.3,1125.9 699.2,1119.7 711,1113.3 722.9,1106.8 734.8,1100.1 746.7,1093.3 758.5,1086.3 770.4,1079.2 782.3,1072 794.2,1064.7 806,1057.2 817.9,1049.6 829.8,1041.9 841.7,1034.1 853.5,1026.1 865.4,1018 877.3,1009.8 889.1,1001.4 901,992.9 912.9,984.3 924.8,975.6 936.6,966.7 948.5,957.7 960.4,948.6 972.3,939.4 984.1,930 996,920.5 1007.9,910.9 1019.7,901.1 1031.6,891.2 1043.5,881.2 1055.4,871.1 1067.2,860.8 1079.1,850.5 1091,840 1102.9,829.3 1114.7,818.6 1126.6,807.7 1138.5,796.7 1150.4,785.6 1162.2,774.4 1174.1,763.1 1186,751.6 1197.8,740.1 1209.7,728.5 1221.6,716.7 1233.5,704.9 1245.3,692.9 1257.2,680.9 1269.1,668.8 1281,656.6 1292.8,644.3 1304.7,632 1316.6,619.5 1328.4,606.9 1340.3,594.3 1352.2,581.6 1364.1,568.7 1375.9,555.8 1387.8,542.7 1399.7,529.6 1411.6,516.3 1423.4,502.9 1435.3,489.5 1447.2,475.9 1459.1,462.3 1470.9,448.6 1482.8,434.9 1494.7,421.1 1506.5,407.2 1518.4,393.4 1530.3,379.7 1542.2,366 1554,352.5 1565.9,339.1 1577.8,326 1589.7,313.1 1601.5,300.6 1613.4,288.3 1625.3,276.2 1637.1,264.4 1649,252.9 1660.9,241.5 1672.8,230.4 1684.6,219.4 1696.5,208.5 1708.4,197.7 1720.3,186.9 1732.1,176.1 1744,165.3 1755.9,154.4 1767.8,143.3 1779.6,132.1 1791.5,120.6 1791.5,148.3 1779.6,159.8 1767.8,171.2 1755.9,182.5 1744,193.6 1732.1,204.7 1720.3,215.7 1708.4,226.7 1696.5,237.7 1684.6,248.8 1672.8,259.9 1660.9,271 1649,282.3 1637.1,293.8 1625.3,305.4 1613.4,317.2 1601.5,329.3 1589.7,341.7 1577.8,354.4 1565.9,367.4 1554,380.7 1542.2,394.3 1530.3,408.1 1518.4,422.2 1506.5,436.6 1494.7,451.1 1482.8,465.8 1470.9,480.7 1459.1,495.7 1447.2,510.8 1435.3,525.9 1423.4,540.9 1411.6,555.8 1399.7,570.3 1387.8,584.3 1375.9,597.8 1364.1,610.7 1352.2,623.1 1340.3,635.1 1328.4,646.8 1316.6,658.3 1304.7,669.6 1292.8,680.8 1281,692.1 1269.1,703.3 1257.2,714.6 1245.3,725.9 1233.5,737.1 1221.6,748.4 1209.7,759.7 1197.8,770.9 1186,782.1 1174.1,793.2 1162.2,804.3 1150.4,815.3 1138.5,826.2 1126.6,837 1114.7,847.7 1102.9,858.3 1091,868.8 1079.1,879.1 1067.2,889.3 1055.4,899.4 1043.5,909.4 1031.6,919.2 1019.7,928.9 1007.9,938.4 996,947.8 984.1,957.1 972.3,966.3 960.4,975.3 948.5,984.2 936.6,993 924.8,1001.6 912.9,1010.1 901,1018.5 889.1,1026.7 877.3,1034.9 865.4,1042.9 853.5,1050.7 841.7,1058.5 829.8,1066.1 817.9,1073.6 806,1081 794.2,1088.2 782.3,1095.3 770.4,1102.3 758.5,1109.2 746.7,1115.9 734.8,1122.6 722.9,1129.1 711,1135.4 699.2,1141.7 687.3,1147.8 675.4,1153.7 663.6,1159.4 651.7,1165 639.8,1170.5 627.9,1175.7 616.1,1180.7 604.2,1185.6 592.3,1190.2 580.4,1194.6 568.6,1198.8 556.7,1202.8 544.8,1206.6 533,1210 521.1,1213.3 509.2,1216.3 497.3,1219 485.5,1221.4 473.6,1223.6 461.7,1225.4 449.8,1227 438,1228.2 426.1,1229.2 414.2,1229.8 402.3,1230.1 390.5,1230.1 378.6,1229.7Z" fill="#800080"/>
</g>
<g id="labels-a">
<text class="sf" x="172.7" y="178.8" font-size="68" text-anchor="end" stroke="#000" stroke-width="1.1">10</text>
<text class="sf" x="181.2" y="434.2" font-size="68" text-anchor="end" stroke="#000" stroke-width="1.1">5</text>
<text class="sf" x="181.2" y="698.6" font-size="68" text-anchor="end" stroke="#000" stroke-width="1.1">0</text>
<text class="sf" x="180.2" y="954.6" font-size="68" text-anchor="end" stroke="#000" stroke-width="1.1"><tspan stroke="#000" stroke-width="3.4">−</tspan><tspan dx="1">5</tspan></text>
<text class="sf" x="181.4" y="1217.6" font-size="68" text-anchor="end" stroke="#000" stroke-width="1.1"><tspan stroke="#000" stroke-width="3.4">−</tspan><tspan dx="1">10</tspan></text>
<text class="sf" x="282.3" y="1405.6" font-size="68" text-anchor="end" stroke="#000" stroke-width="1.1"><tspan stroke="#000" stroke-width="3.4">−</tspan><tspan dx="1">400</tspan></text>
<text class="sf" x="503.4" y="1409.4" font-size="68" text-anchor="end" stroke="#000" stroke-width="1.1"><tspan stroke="#000" stroke-width="3.4">−</tspan><tspan dx="1">300</tspan></text>
<text class="sf" x="705.6" y="1408" font-size="68" text-anchor="end" stroke="#000" stroke-width="1.1"><tspan stroke="#000" stroke-width="3.4">−</tspan><tspan dx="1">200</tspan></text>
<text class="sf" x="921.6" y="1409.4" font-size="68" text-anchor="end" stroke="#000" stroke-width="1.1"><tspan stroke="#000" stroke-width="3.4">−</tspan><tspan dx="1">100</tspan></text>
<text class="sf" x="1109" y="1408" font-size="68" text-anchor="end" stroke="#000" stroke-width="1.1">0</text>
<text class="sf" x="1360" y="1407" font-size="68" text-anchor="end" stroke="#000" stroke-width="1.1">100</text>
<text class="sf" x="1580.6" y="1403.2" font-size="68" text-anchor="end" stroke="#000" stroke-width="1.1">200</text>
<text class="sf" x="1799.6" y="1398.6" font-size="68" text-anchor="end" stroke="#000" stroke-width="1.1">300</text>
<text class="sf" x="2016.6" y="1395" font-size="68" text-anchor="end" stroke="#000" stroke-width="1.1">400</text>
<text class="ss" x="923.3" y="1519.7" font-size="76" textLength="333.5" lengthAdjust="spacingAndGlyphs">E (kV/cm)</text>
<text class="ss" font-size="77.5" transform="translate(88,1006.8) rotate(-90)" textLength="722" lengthAdjust="spacingAndGlyphs">Polarization (µC/cm²)</text>
<text class="sf" x="748.5" y="295" font-size="118" font-weight="bold" textLength="141" lengthAdjust="spacingAndGlyphs">(a)</text>
<text class="ss" x="1128.4" y="112.4" font-size="72" fill="#0000ff" textLength="468" lengthAdjust="spacingAndGlyphs">BNT-BT (PLD)</text>
<text class="ss" x="1490" y="1048" font-size="60" textLength="198" lengthAdjust="spacingAndGlyphs">10 KHz</text>
<line x1="316" y1="60.7" x2="434.7" y2="60.7" stroke="#000000" stroke-width="4"/>
<rect x="367.5" y="53.2" width="15" height="15" fill="#000000"/>
<text class="ss" transform="translate(446.3,78.7) scale(0.965,1)" font-size="51" stroke="#000" stroke-width="0.4">22°C</text>
<line x1="316" y1="122.8" x2="434.7" y2="122.8" stroke="#ff0000" stroke-width="4"/>
<rect x="367.5" y="115.3" width="15" height="15" fill="#ff0000"/>
<text class="ss" transform="translate(446.3,140.8) scale(0.965,1)" font-size="51" stroke="#000" stroke-width="0.4">50°C</text>
<line x1="316" y1="184.9" x2="434.7" y2="184.9" stroke="#00ff00" stroke-width="4"/>
<rect x="367.5" y="177.4" width="15" height="15" fill="#00ff00"/>
<text class="ss" transform="translate(446.3,202.9) scale(0.965,1)" font-size="51" stroke="#000" stroke-width="0.4">100°C</text>
<line x1="316" y1="247.1" x2="434.7" y2="247.1" stroke="#0000ff" stroke-width="4"/>
<rect x="367.5" y="239.6" width="15" height="15" fill="#0000ff"/>
<text class="ss" transform="translate(446.3,265.1) scale(0.965,1)" font-size="51" stroke="#000" stroke-width="0.4">150°C</text>
<line x1="316" y1="309.2" x2="434.7" y2="309.2" stroke="#00ffff" stroke-width="4"/>
<rect x="367.5" y="301.7" width="15" height="15" fill="#00ffff"/>
<text class="ss" transform="translate(446.3,327.2) scale(0.965,1)" font-size="51" stroke="#000" stroke-width="0.4">160°C</text>
<line x1="316" y1="371.3" x2="434.7" y2="371.3" stroke="#ff00ff" stroke-width="4"/>
<rect x="367.5" y="363.8" width="15" height="15" fill="#ff00ff"/>
<text class="ss" transform="translate(446.3,389.3) scale(0.965,1)" font-size="51" stroke="#000" stroke-width="0.4">180°C</text>
<line x1="316" y1="433.4" x2="434.7" y2="433.4" stroke="#ffff00" stroke-width="4"/>
<rect x="367.5" y="425.9" width="15" height="15" fill="#ffff00"/>
<text class="ss" transform="translate(446.3,451.4) scale(0.965,1)" font-size="51" stroke="#000" stroke-width="0.4">200°C</text>
<line x1="316" y1="495.5" x2="434.7" y2="495.5" stroke="#808000" stroke-width="4"/>
<rect x="367.5" y="488" width="15" height="15" fill="#808000"/>
<text class="ss" transform="translate(446.3,513.5) scale(0.965,1)" font-size="51" stroke="#000" stroke-width="0.4">220°C</text>
<line x1="316" y1="557.7" x2="434.7" y2="557.7" stroke="#000080" stroke-width="4"/>
<rect x="367.5" y="550.2" width="15" height="15" fill="#000080"/>
<text class="ss" transform="translate(446.3,575.7) scale(0.965,1)" font-size="51" stroke="#000" stroke-width="0.4">240°C</text>
<line x1="316" y1="619.8" x2="434.7" y2="619.8" stroke="#800080" stroke-width="4"/>
<rect x="367.5" y="612.3" width="15" height="15" fill="#800080"/>
<text class="ss" transform="translate(446.3,637.8) scale(0.965,1)" font-size="51" stroke="#000" stroke-width="0.4">260°C</text>
</g>
<g id="axes-b">
<line x1="238" y1="1616" x2="1979" y2="1616" stroke="#1e1e1e" stroke-width="5"/>
<line x1="238" y1="2891.6" x2="1979" y2="2891.6" stroke="#1e1e1e" stroke-width="5"/>
<line x1="264" y1="1613.5" x2="264" y2="2916.6" stroke="#1e1e1e" stroke-width="5.4"/>
<line x1="1976.4" y1="1613.5" x2="1976.4" y2="2916.6" stroke="#1e1e1e" stroke-width="5.4"/>
<line x1="1119.8" y1="1616" x2="1119.8" y2="2916.6" stroke="#777" stroke-width="6.4"/><line x1="1121.2" y1="1616" x2="1121.2" y2="2916.6" stroke="#000" stroke-width="3.6"/>
<line x1="238" y1="2254" x2="1976.4" y2="2254" stroke="#c2c2c2" stroke-width="7"/><line x1="238" y1="2254" x2="1976.4" y2="2254" stroke="#000" stroke-width="3.4"/>
<line x1="238" y1="1775.5" x2="264" y2="1775.5" stroke="#1e1e1e" stroke-width="4.6"/>
<line x1="238" y1="1935" x2="264" y2="1935" stroke="#1e1e1e" stroke-width="4.6"/>
<line x1="238" y1="2094.5" x2="264" y2="2094.5" stroke="#1e1e1e" stroke-width="4.6"/>
<line x1="238" y1="2413.5" x2="264" y2="2413.5" stroke="#1e1e1e" stroke-width="4.6"/>
<line x1="238" y1="2573" x2="264" y2="2573" stroke="#1e1e1e" stroke-width="4.6"/>
<line x1="238" y1="2732.5" x2="264" y2="2732.5" stroke="#1e1e1e" stroke-width="4.6"/>
<line x1="250" y1="1695.8" x2="264" y2="1695.8" stroke="#1e1e1e" stroke-width="4.4"/>
<line x1="250" y1="1855.2" x2="264" y2="1855.2" stroke="#1e1e1e" stroke-width="4.4"/>
<line x1="250" y1="2014.8" x2="264" y2="2014.8" stroke="#1e1e1e" stroke-width="4.4"/>
<line x1="250" y1="2174.2" x2="264" y2="2174.2" stroke="#1e1e1e" stroke-width="4.4"/>
<line x1="250" y1="2333.8" x2="264" y2="2333.8" stroke="#1e1e1e" stroke-width="4.4"/>
<line x1="250" y1="2493.2" x2="264" y2="2493.2" stroke="#1e1e1e" stroke-width="4.4"/>
<line x1="250" y1="2652.8" x2="264" y2="2652.8" stroke="#1e1e1e" stroke-width="4.4"/>
<line x1="250" y1="2812.2" x2="264" y2="2812.2" stroke="#1e1e1e" stroke-width="4.4"/>
<line x1="478.1" y1="2891.6" x2="478.1" y2="2916.6" stroke="#1e1e1e" stroke-width="5"/>
<line x1="692.2" y1="2891.6" x2="692.2" y2="2916.6" stroke="#1e1e1e" stroke-width="5"/>
<line x1="906.3" y1="2891.6" x2="906.3" y2="2916.6" stroke="#1e1e1e" stroke-width="5"/>
<line x1="1334.5" y1="2891.6" x2="1334.5" y2="2916.6" stroke="#1e1e1e" stroke-width="5"/>
<line x1="1548.6" y1="2891.6" x2="1548.6" y2="2916.6" stroke="#1e1e1e" stroke-width="5"/>
<line x1="1762.7" y1="2891.6" x2="1762.7" y2="2916.6" stroke="#1e1e1e" stroke-width="5"/>
<line x1="371.1" y1="2891.6" x2="371.1" y2="2904.6" stroke="#1e1e1e" stroke-width="4.6"/>
<line x1="585.2" y1="2891.6" x2="585.2" y2="2904.6" stroke="#1e1e1e" stroke-width="4.6"/>
<line x1="799.3" y1="2891.6" x2="799.3" y2="2904.6" stroke="#1e1e1e" stroke-width="4.6"/>
<line x1="1013.4" y1="2891.6" x2="1013.4" y2="2904.6" stroke="#1e1e1e" stroke-width="4.6"/>
<line x1="1227.5" y1="2891.6" x2="1227.5" y2="2904.6" stroke="#1e1e1e" stroke-width="4.6"/>
<line x1="1441.6" y1="2891.6" x2="1441.6" y2="2904.6" stroke="#1e1e1e" stroke-width="4.6"/>
<line x1="1655.7" y1="2891.6" x2="1655.7" y2="2904.6" stroke="#1e1e1e" stroke-width="4.6"/>
<line x1="1869.8" y1="2891.6" x2="1869.8" y2="2904.6" stroke="#1e1e1e" stroke-width="4.6"/>
</g>
<g id="loops-b" fill="none" stroke-linejoin="round" stroke-linecap="round">
<path d="M427,2576.2 450.4,2561.5 473.8,2547.1 497.2,2533.2 520.6,2519.7 544,2506.6 567.4,2493.8 590.8,2481.3 614.2,2469.1 637.6,2457 661,2445.3 684.4,2433.6 707.8,2422.1 731.2,2410.7 754.6,2399.4 778,2388.2 801.4,2377 824.8,2365.8 848.2,2354.7 871.6,2343.5 895,2332.3 918.4,2321.1 941.8,2309.8 965.2,2298.5 988.6,2287.1 1012,2275.7 1035.4,2264.2 1058.8,2252.6 1082.1,2241 1105.5,2229.3 1128.9,2217.5 1152.3,2205.7 1175.7,2193.8 1199.1,2181.9 1222.5,2169.9 1245.9,2157.9 1269.3,2145.9 1292.7,2133.9 1316.1,2122 1339.5,2110 1362.9,2098.1 1386.3,2086.3 1409.7,2074.6 1433.1,2063 1456.5,2051.5 1479.9,2040.1 1503.3,2028.9 1526.7,2017.9 1550.1,2007.1 1573.5,1996.5 1596.9,1986.2 1620.3,1976.3 1643.7,1966.6 1667.1,1957.4 1690.5,1948.9 1713.9,1941.2 1737.3,1934.5 1760.7,1929.7 1784.1,1927.4 1807.4,1928.5 1807.4,1928.5 1784.1,1941.9 1760.7,1955.2 1737.3,1968.3 1713.9,1981.3 1690.5,1994.1 1667.1,2006.8 1643.7,2019.4 1620.3,2031.8 1596.9,2044.2 1573.5,2056.4 1550.1,2068.6 1526.7,2080.6 1503.3,2092.6 1479.9,2104.5 1456.5,2116.3 1433.1,2128 1409.7,2139.7 1386.3,2151.3 1362.9,2162.8 1339.5,2174.3 1316.1,2185.7 1292.7,2197 1269.3,2208.3 1245.9,2219.6 1222.5,2230.8 1199.1,2241.9 1175.7,2253 1152.3,2264.1 1128.9,2275.1 1105.5,2286.1 1082.1,2297 1058.8,2307.9 1035.4,2318.8 1012,2329.6 988.6,2340.3 965.2,2351.1 941.8,2361.7 918.4,2372.4 895,2383 871.6,2393.5 848.2,2404.1 824.8,2414.5 801.4,2425 778,2435.5 754.6,2445.9 731.2,2456.3 707.8,2466.8 684.4,2477.2 661,2487.6 637.6,2498.1 614.2,2508.6 590.8,2519.1 567.4,2529.5 544,2539.7 520.6,2549.6 497.2,2558.8 473.8,2566.9 450.4,2573.1 427,2576.2Z" stroke="#000000" stroke-width="12.6"/>
<path d="M427,2594.3 450.4,2579.8 473.8,2565.6 497.2,2551.6 520.6,2538 544,2524.7 567.4,2511.5 590.8,2498.6 614.2,2485.8 637.6,2473.2 661,2460.7 684.4,2448.2 707.8,2435.9 731.2,2423.6 754.6,2411.4 778,2399.2 801.4,2387 824.8,2374.7 848.2,2362.5 871.6,2350.3 895,2338 918.4,2325.7 941.8,2313.3 965.2,2300.9 988.6,2288.4 1012,2275.9 1035.4,2263.3 1058.8,2250.6 1082.1,2238 1105.5,2225.2 1128.9,2212.5 1152.3,2199.7 1175.7,2186.9 1199.1,2174.1 1222.5,2161.2 1245.9,2148.4 1269.3,2135.7 1292.7,2122.9 1316.1,2110.2 1339.5,2097.7 1362.9,2085.1 1386.3,2072.8 1409.7,2060.5 1433.1,2048.4 1456.5,2036.5 1479.9,2024.8 1503.3,2013.2 1526.7,2001.9 1550.1,1990.8 1573.5,1980 1596.9,1969.4 1620.3,1959.4 1643.7,1949.6 1667.1,1940.2 1690.5,1931.7 1713.9,1923.9 1737.3,1917.3 1760.7,1912.5 1784.1,1910.3 1807.4,1911.7 1807.4,1911.7 1784.1,1923.1 1760.7,1934.7 1737.3,1946.5 1713.9,1958.6 1690.5,1970.8 1667.1,1983.1 1643.7,1995.6 1620.3,2008.3 1596.9,2021 1573.5,2033.9 1550.1,2046.9 1526.7,2059.9 1503.3,2072.9 1479.9,2086 1456.5,2099.2 1433.1,2112.3 1409.7,2125.5 1386.3,2138.6 1362.9,2151.7 1339.5,2164.8 1316.1,2177.8 1292.7,2190.8 1269.3,2203.7 1245.9,2216.6 1222.5,2229.3 1199.1,2242 1175.7,2254.6 1152.3,2267.1 1128.9,2279.5 1105.5,2291.8 1082.1,2304 1058.8,2316 1035.4,2327.9 1012,2339.7 988.6,2351.4 965.2,2363 941.8,2374.4 918.4,2385.7 895,2396.9 871.6,2408 848.2,2419 824.8,2429.8 801.4,2440.6 778,2451.3 754.6,2461.9 731.2,2472.5 707.8,2483 684.4,2493.5 661,2504 637.6,2514.6 614.2,2525.1 590.8,2535.6 567.4,2546.2 544,2556.5 520.6,2566.6 497.2,2576 473.8,2584.4 450.4,2590.9 427,2594.3Z" stroke="#ff0000" stroke-width="12.6"/>
<path d="M427,2648.6 450.4,2633.1 473.8,2617.8 497.2,2602.6 520.6,2587.6 544,2572.7 567.4,2557.8 590.8,2543.2 614.2,2528.5 637.6,2514 661,2499.5 684.4,2485 707.8,2470.5 731.2,2456.1 754.6,2441.7 778,2427.2 801.4,2412.8 824.8,2398.3 848.2,2383.9 871.6,2369.4 895,2354.8 918.4,2340.3 941.8,2325.7 965.2,2311.1 988.6,2296.4 1012,2281.8 1035.4,2267.1 1058.8,2252.4 1082.1,2237.6 1105.5,2222.9 1128.9,2208.2 1152.3,2193.5 1175.7,2178.8 1199.1,2164.1 1222.5,2149.4 1245.9,2134.8 1269.3,2120.3 1292.7,2105.9 1316.1,2091.5 1339.5,2077.3 1362.9,2063.1 1386.3,2049.1 1409.7,2035.2 1433.1,2021.5 1456.5,2008 1479.9,1994.6 1503.3,1981.4 1526.7,1968.4 1550.1,1955.7 1573.5,1943.1 1596.9,1930.7 1620.3,1918.8 1643.7,1907.1 1667.1,1895.7 1690.5,1885.1 1713.9,1875.2 1737.3,1866.4 1760.7,1859.5 1784.1,1855.3 1807.4,1854.9 1807.4,1854.9 1784.1,1868.9 1760.7,1883.1 1737.3,1897.3 1713.9,1911.7 1690.5,1926.2 1667.1,1940.8 1643.7,1955.4 1620.3,1970.1 1596.9,1984.9 1573.5,1999.7 1550.1,2014.6 1526.7,2029.4 1503.3,2044.3 1479.9,2059.2 1456.5,2074.1 1433.1,2088.9 1409.7,2103.7 1386.3,2118.5 1362.9,2133.3 1339.5,2148 1316.1,2162.6 1292.7,2177.2 1269.3,2191.7 1245.9,2206.1 1222.5,2220.5 1199.1,2234.7 1175.7,2248.9 1152.3,2263 1128.9,2276.9 1105.5,2290.8 1082.1,2304.6 1058.8,2318.2 1035.4,2331.8 1012,2345.3 988.6,2358.6 965.2,2371.9 941.8,2385 918.4,2398 895,2411 871.6,2423.8 848.2,2436.6 824.8,2449.3 801.4,2461.9 778,2474.5 754.6,2487.1 731.2,2499.6 707.8,2512.2 684.4,2524.7 661,2537.3 637.6,2550 614.2,2562.7 590.8,2575.4 567.4,2588.2 544,2600.8 520.6,2613.1 497.2,2624.8 473.8,2635.2 450.4,2643.6 427,2648.6Z" stroke="#0000ff" stroke-width="12.6"/>
<path d="M427,2705.4 450.4,2686.4 473.8,2667.7 497.2,2649.3 520.6,2631.3 544,2613.6 567.4,2596.1 590.8,2578.9 614.2,2561.9 637.6,2545.1 661,2528.4 684.4,2511.9 707.8,2495.4 731.2,2479 754.6,2462.7 778,2446.4 801.4,2430.2 824.8,2413.9 848.2,2397.7 871.6,2381.5 895,2365.2 918.4,2348.9 941.8,2332.6 965.2,2316.2 988.6,2299.8 1012,2283.3 1035.4,2266.8 1058.8,2250.3 1082.1,2233.7 1105.5,2217.1 1128.9,2200.4 1152.3,2183.7 1175.7,2167.1 1199.1,2150.4 1222.5,2133.7 1245.9,2117.1 1269.3,2100.5 1292.7,2084 1316.1,2067.5 1339.5,2051.2 1362.9,2034.9 1386.3,2018.8 1409.7,2002.8 1433.1,1987 1456.5,1971.4 1479.9,1956 1503.3,1940.8 1526.7,1925.8 1550.1,1911.2 1573.5,1896.7 1596.9,1882.6 1620.3,1868.9 1643.7,1855.6 1667.1,1842.7 1690.5,1830.8 1713.9,1819.7 1737.3,1810 1760.7,1802.5 1784.1,1798 1807.4,1798 1807.4,1798 1784.1,1818.7 1760.7,1839.1 1737.3,1858.9 1713.9,1878.1 1690.5,1896.9 1667.1,1915.4 1643.7,1933.3 1620.3,1950.9 1596.9,1968.3 1573.5,1985.3 1550.1,2002 1526.7,2018.6 1503.3,2034.9 1479.9,2051.1 1456.5,2067.1 1433.1,2083 1409.7,2098.7 1386.3,2114.4 1362.9,2130 1339.5,2145.5 1316.1,2161 1292.7,2176.5 1269.3,2192 1245.9,2207.4 1222.5,2222.8 1199.1,2238.3 1175.7,2253.8 1152.3,2269.3 1128.9,2284.8 1105.5,2300.3 1082.1,2315.8 1058.8,2331.4 1035.4,2347 1012,2362.6 988.6,2378.2 965.2,2393.8 941.8,2409.4 918.4,2424.9 895,2440.5 871.6,2456 848.2,2471.5 824.8,2486.9 801.4,2502.2 778,2517.5 754.6,2532.6 731.2,2547.8 707.8,2562.8 684.4,2577.6 661,2592.4 637.6,2607 614.2,2621.4 590.8,2635.6 567.4,2649.5 544,2662.8 520.6,2675.4 497.2,2686.8 473.8,2696.3 450.4,2703 427,2705.4Z" stroke="#ff00ff" stroke-width="12.6"/>
<path d="M427,2722 450.4,2700.8 473.8,2680 497.2,2659.8 520.6,2640.2 544,2621.1 567.4,2602.3 590.8,2584 614.2,2566 637.6,2548.2 661,2530.8 684.4,2513.5 707.8,2496.5 731.2,2479.6 754.6,2462.8 778,2446.2 801.4,2429.6 824.8,2413 848.2,2396.5 871.6,2380 895,2363.5 918.4,2347 941.8,2330.4 965.2,2313.8 988.6,2297.1 1012,2280.4 1035.4,2263.6 1058.8,2246.8 1082.1,2229.9 1105.5,2212.9 1128.9,2195.9 1152.3,2178.9 1175.7,2161.8 1199.1,2144.6 1222.5,2127.5 1245.9,2110.3 1269.3,2093.2 1292.7,2076.2 1316.1,2059.1 1339.5,2042.2 1362.9,2025.3 1386.3,2008.6 1409.7,1992 1433.1,1975.6 1456.5,1959.3 1479.9,1943.4 1503.3,1927.6 1526.7,1912.1 1550.1,1896.9 1573.5,1882 1596.9,1867.4 1620.3,1853.5 1643.7,1839.9 1667.1,1826.8 1690.5,1814.8 1713.9,1803.7 1737.3,1794.2 1760.7,1787 1784.1,1783.1 1807.4,1783.9 1807.4,1783.9 1784.1,1805.6 1760.7,1826.8 1737.3,1847.5 1713.9,1867.5 1690.5,1887.1 1667.1,1906.2 1643.7,1924.9 1620.3,1943.2 1596.9,1961.2 1573.5,1978.8 1550.1,1996.1 1526.7,2013.3 1503.3,2030.2 1479.9,2046.9 1456.5,2063.5 1433.1,2079.9 1409.7,2096.3 1386.3,2112.5 1362.9,2128.7 1339.5,2144.8 1316.1,2160.8 1292.7,2176.9 1269.3,2192.9 1245.9,2209 1222.5,2225 1199.1,2241.1 1175.7,2257.2 1152.3,2273.3 1128.9,2289.4 1105.5,2305.6 1082.1,2321.8 1058.8,2338 1035.4,2354.2 1012,2370.5 988.6,2386.7 965.2,2403 941.8,2419.2 918.4,2435.4 895,2451.6 871.6,2467.8 848.2,2483.8 824.8,2499.9 801.4,2515.8 778,2531.6 754.6,2547.3 731.2,2563 707.8,2578.4 684.4,2593.7 661,2608.9 637.6,2623.9 614.2,2638.5 590.8,2653 567.4,2667.1 544,2680.4 520.6,2693.1 497.2,2704.4 473.8,2713.7 450.4,2720.1 427,2722Z" stroke="#008000" stroke-width="12.6"/>
<path d="M427,2749.3 450.4,2724.9 473.8,2701.1 497.2,2678 520.6,2655.8 544,2634.2 567.4,2613 590.8,2592.7 614.2,2572.7 637.6,2553.1 661,2534 684.4,2515.3 707.8,2496.8 731.2,2478.5 754.6,2460.6 778,2442.7 801.4,2425.1 824.8,2407.6 848.2,2390.1 871.6,2372.7 895,2355.4 918.4,2338.1 941.8,2320.8 965.2,2303.5 988.6,2286.2 1012,2268.8 1035.4,2251.4 1058.8,2233.9 1082.1,2216.4 1105.5,2198.9 1128.9,2181.3 1152.3,2163.6 1175.7,2145.9 1199.1,2128.2 1222.5,2110.5 1245.9,2092.8 1269.3,2075.1 1292.7,2057.5 1316.1,2039.8 1339.5,2022.3 1362.9,2004.9 1386.3,1987.6 1409.7,1970.5 1433.1,1953.5 1456.5,1936.7 1479.9,1920.2 1503.3,1903.9 1526.7,1887.9 1550.1,1872.2 1573.5,1856.9 1596.9,1841.9 1620.3,1827.6 1643.7,1813.6 1667.1,1800.3 1690.5,1788.1 1713.9,1776.9 1737.3,1767.4 1760.7,1760.3 1784.1,1756.8 1807.4,1758.1 1807.4,1758.1 1784.1,1781.4 1760.7,1804.2 1737.3,1826.6 1713.9,1848.4 1690.5,1869.6 1667.1,1890.6 1643.7,1911 1620.3,1931 1596.9,1950.8 1573.5,1970.2 1550.1,1989.2 1526.7,2008.1 1503.3,2026.7 1479.9,2045 1456.5,2063.1 1433.1,2081.1 1409.7,2098.8 1386.3,2116.5 1362.9,2134 1339.5,2151.3 1316.1,2168.6 1292.7,2185.8 1269.3,2202.9 1245.9,2219.9 1222.5,2236.8 1199.1,2253.7 1175.7,2270.6 1152.3,2287.4 1128.9,2304.1 1105.5,2320.8 1082.1,2337.5 1058.8,2354.1 1035.4,2370.7 1012,2387.3 988.6,2403.8 965.2,2420.3 941.8,2436.7 918.4,2453 895,2469.3 871.6,2485.5 848.2,2501.7 824.8,2517.8 801.4,2533.8 778,2549.7 754.6,2565.5 731.2,2581.2 707.8,2596.9 684.4,2612.4 661,2627.9 637.6,2643.2 614.2,2658.4 590.8,2673.4 567.4,2688.1 544,2702.3 520.6,2715.8 497.2,2728.2 473.8,2738.7 450.4,2746.2 427,2749.3Z" stroke="#000080" stroke-width="12.6"/>
<path d="M427,2777.7 450.4,2751 473.8,2725 497.2,2699.7 520.6,2675.4 544,2651.7 567.4,2628.5 590.8,2606.1 614.2,2584.2 637.6,2562.7 661,2541.8 684.4,2521.2 707.8,2500.9 731.2,2480.9 754.6,2461.3 778,2441.8 801.4,2422.5 824.8,2403.4 848.2,2384.5 871.6,2365.6 895,2346.9 918.4,2328.2 941.8,2309.6 965.2,2291 988.6,2272.4 1012,2253.8 1035.4,2235.3 1058.8,2216.7 1082.1,2198.1 1105.5,2179.5 1128.9,2161 1152.3,2142.4 1175.7,2123.9 1199.1,2105.3 1222.5,2086.8 1245.9,2068.3 1269.3,2049.9 1292.7,2031.6 1316.1,2013.4 1339.5,1995.3 1362.9,1977.3 1386.3,1959.5 1409.7,1941.9 1433.1,1924.5 1456.5,1907.4 1479.9,1890.6 1503.3,1873.9 1526.7,1857.7 1550.1,1841.8 1573.5,1826.3 1596.9,1811.1 1620.3,1796.7 1643.7,1782.7 1667.1,1769.3 1690.5,1757.1 1713.9,1745.9 1737.3,1736.5 1760.7,1729.7 1784.1,1726.5 1807.4,1728.4 1807.4,1728.4 1784.1,1753.6 1760.7,1778.3 1737.3,1802.6 1713.9,1826.4 1690.5,1849.8 1667.1,1872.9 1643.7,1895.4 1620.3,1917.6 1596.9,1939.6 1573.5,1961.1 1550.1,1982.3 1526.7,2003.3 1503.3,2024 1479.9,2044.4 1456.5,2064.6 1433.1,2084.6 1409.7,2104.3 1386.3,2123.8 1362.9,2143.1 1339.5,2162.2 1316.1,2181.2 1292.7,2200 1269.3,2218.6 1245.9,2237.1 1222.5,2255.4 1199.1,2273.6 1175.7,2291.7 1152.3,2309.6 1128.9,2327.4 1105.5,2345 1082.1,2362.5 1058.8,2379.9 1035.4,2397.2 1012,2414.4 988.6,2431.4 965.2,2448.3 941.8,2465.1 918.4,2481.7 895,2498.2 871.6,2514.6 848.2,2530.8 824.8,2546.9 801.4,2562.9 778,2578.8 754.6,2594.5 731.2,2610.2 707.8,2625.7 684.4,2641.1 661,2656.4 637.6,2671.6 614.2,2686.7 590.8,2701.6 567.4,2716.3 544,2730.5 520.6,2744.1 497.2,2756.5 473.8,2767.1 450.4,2774.7 427,2777.7Z" stroke="#8000ff" stroke-width="12.6"/>
</g>
<g id="labels-b">
<text class="ss" x="220" y="1635" font-size="69" text-anchor="end" stroke="#000" stroke-width="0.5">8</text>
<text class="ss" x="220" y="1794.5" font-size="69" text-anchor="end" stroke="#000" stroke-width="0.5">6</text>
<text class="ss" x="220" y="1954" font-size="69" text-anchor="end" stroke="#000" stroke-width="0.5">4</text>
<text class="ss" x="220" y="2113.5" font-size="69" text-anchor="end" stroke="#000" stroke-width="0.5">2</text>
<text class="ss" x="220" y="2273" font-size="69" text-anchor="end" stroke="#000" stroke-width="0.5">0</text>
<text class="ss" x="220" y="2432.5" font-size="69" text-anchor="end" stroke="#000" stroke-width="0.5"><tspan stroke="#000" stroke-width="4">−</tspan><tspan dx="3">2</tspan></text>
<text class="ss" x="220" y="2592" font-size="69" text-anchor="end" stroke="#000" stroke-width="0.5"><tspan stroke="#000" stroke-width="4">−</tspan><tspan dx="3">4</tspan></text>
<text class="ss" x="220" y="2751.5" font-size="69" text-anchor="end" stroke="#000" stroke-width="0.5"><tspan stroke="#000" stroke-width="4">−</tspan><tspan dx="3">6</tspan></text>
<text class="ss" x="220" y="2911" font-size="69" text-anchor="end" stroke="#000" stroke-width="0.5"><tspan stroke="#000" stroke-width="4">−</tspan><tspan dx="3">8</tspan></text>
<text class="ss" x="330.5" y="2988.5" font-size="69" text-anchor="end" stroke="#000" stroke-width="0.5"><tspan stroke="#000" stroke-width="4">−</tspan><tspan dx="3">800</tspan></text>
<text class="ss" x="546.1" y="2988.5" font-size="69" text-anchor="end" stroke="#000" stroke-width="0.5"><tspan stroke="#000" stroke-width="4">−</tspan><tspan dx="3">600</tspan></text>
<text class="ss" x="760.2" y="2988.5" font-size="69" text-anchor="end" stroke="#000" stroke-width="0.5"><tspan stroke="#000" stroke-width="4">−</tspan><tspan dx="3">400</tspan></text>
<text class="ss" x="974.3" y="2988.5" font-size="69" text-anchor="end" stroke="#000" stroke-width="0.5"><tspan stroke="#000" stroke-width="4">−</tspan><tspan dx="3">200</tspan></text>
<text class="ss" x="1139" y="2988.5" font-size="69" text-anchor="end" stroke="#000" stroke-width="0.5">0</text>
<text class="ss" x="1391.8" y="2988.5" font-size="69" text-anchor="end" stroke="#000" stroke-width="0.5">200</text>
<text class="ss" x="1605.9" y="2988.5" font-size="69" text-anchor="end" stroke="#000" stroke-width="0.5">400</text>
<text class="ss" x="1820" y="2988.5" font-size="69" text-anchor="end" stroke="#000" stroke-width="0.5">600</text>
<text class="ss" x="2034.1" y="2988.5" font-size="69" text-anchor="end" stroke="#000" stroke-width="0.5">800</text>
<text class="ss" x="956.6" y="3112" font-size="76" textLength="332" lengthAdjust="spacingAndGlyphs">E (kV/cm)</text>
<text class="ss" font-size="77.5" transform="translate(109,2664.5) rotate(-90)" textLength="722" lengthAdjust="spacingAndGlyphs">Polarization (µC/cm²)</text>
<text class="sf" x="806" y="1868" font-size="118" font-weight="bold" textLength="146" lengthAdjust="spacingAndGlyphs">(b)</text>
<text x="1166" y="1721" font-size="72" fill="#0000ff"><tspan class="ss">BNT-BT </tspan><tspan class="sf" font-weight="bold" font-size="80" dx="-10">(CSD)</tspan></text>
<text class="ss" x="1440" y="2590" font-size="60" textLength="198" lengthAdjust="spacingAndGlyphs">10 KHz</text>
<line x1="319.4" y1="1675.8" x2="481.8" y2="1675.8" stroke="#000000" stroke-width="3.2" stroke-opacity="0.6"/>
<rect x="393.9" y="1669.3" width="13" height="13" fill="#000000"/>
<text class="ss" x="504" y="1699.3" font-size="69.5" stroke="#000" stroke-width="0.4">30 °C</text>
<line x1="319.4" y1="1764.1" x2="481.8" y2="1764.1" stroke="#ff0000" stroke-width="3.2" stroke-opacity="0.6"/>
<circle cx="400.4" cy="1764.1" r="7" fill="#ff0000"/>
<text class="ss" x="504" y="1787.6" font-size="69.5" stroke="#000" stroke-width="0.4">50°C</text>
<line x1="319.4" y1="1852.4" x2="481.8" y2="1852.4" stroke="#0000ff" stroke-width="3.2" stroke-opacity="0.6"/>
<polygon points="392.4,1857.2 408.4,1857.2 400.4,1844.4" fill="#0000ff"/>
<text class="ss" x="504" y="1875.9" font-size="69.5" stroke="#000" stroke-width="0.4">100°C</text>
<line x1="319.4" y1="1940.7" x2="481.8" y2="1940.7" stroke="#ff00ff" stroke-width="3.2" stroke-opacity="0.6"/>
<polygon points="392.4,1935.9 408.4,1935.9 400.4,1948.7" fill="#ff00ff"/>
<text class="ss" x="504" y="1964.2" font-size="69.5" stroke="#000" stroke-width="0.4">150°C</text>
<line x1="319.4" y1="2029" x2="481.8" y2="2029" stroke="#008000" stroke-width="3.2" stroke-opacity="0.6"/>
<polygon points="392.4,2029 400.4,2021 408.4,2029 400.4,2037" fill="#008000"/>
<text class="ss" x="504" y="2052.5" font-size="69.5" stroke="#000" stroke-width="0.4">160°C</text>
<line x1="319.4" y1="2117.3" x2="481.8" y2="2117.3" stroke="#000080" stroke-width="3.2" stroke-opacity="0.6"/>
<polygon points="405.2,2109.3 405.2,2125.3 392.4,2117.3" fill="#000080"/>
<text class="ss" x="504" y="2140.8" font-size="69.5" stroke="#000" stroke-width="0.4">180°C</text>
<line x1="319.4" y1="2205.6" x2="481.8" y2="2205.6" stroke="#8000ff" stroke-width="3.2" stroke-opacity="0.6"/>
<polygon points="395.6,2197.6 395.6,2213.6 408.4,2205.6" fill="#8000ff"/>
<text class="ss" x="504" y="2229.1" font-size="69.5" stroke="#000" stroke-width="0.4">200°C</text>
</g>
</svg>
</body>
</html>
